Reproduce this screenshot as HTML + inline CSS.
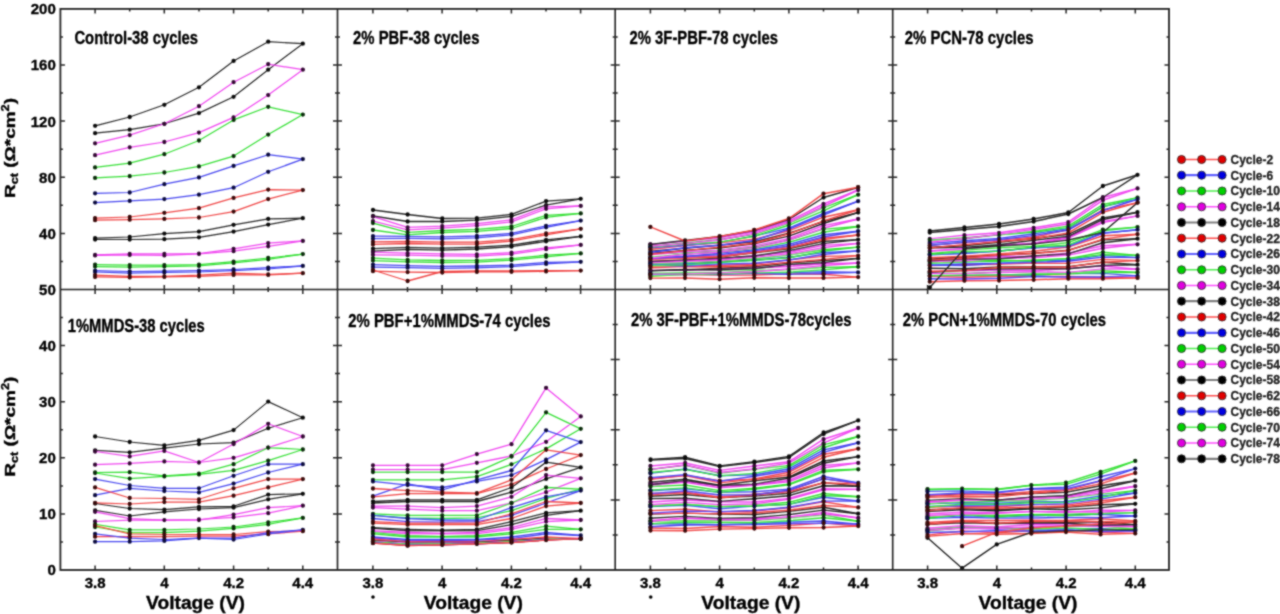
<!DOCTYPE html>
<html><head><meta charset="utf-8"><style>
html,body{margin:0;padding:0;background:#fff;width:1280px;height:614px;overflow:hidden}
svg{display:block}
</style></head><body>
<svg width="1280" height="614" viewBox="0 0 1280 614">
<defs><filter id="bl" x="0" y="0" width="1280" height="614" filterUnits="userSpaceOnUse"><feConvolveMatrix order="3" kernelMatrix="1 2 1 2 8 2 1 2 1" edgeMode="duplicate" preserveAlpha="false"/></filter></defs>
<rect x="0" y="0" width="1280" height="614" fill="#fff"/>
<g filter="url(#bl)">
<g fill="none" stroke-width="1.2" stroke-linejoin="round"><g stroke-width="1.2"><path d="M95.1,125.8 L129.7,117.0 L164.3,104.8 L199.0,87.3 L233.6,60.9 L268.2,41.7 L302.8,43.7" stroke="#2a2a2a"/><path d="M95.1,133.2 L129.7,129.7 L164.3,123.8 L199.0,113.1 L233.6,96.8 L268.2,69.7 L302.8,43.7" stroke="#2a2a2a"/><path d="M95.1,143.3 L129.7,135.1 L164.3,123.8 L199.0,106.2 L233.6,82.2 L268.2,64.2 L302.8,69.7" stroke="#f048f0"/><path d="M95.1,155.2 L129.7,147.3 L164.3,142.0 L199.0,132.6 L233.6,117.4 L268.2,95.1 L302.8,69.7" stroke="#f048f0"/><path d="M95.1,167.4 L129.7,163.2 L164.3,154.2 L199.0,140.5 L233.6,119.9 L268.2,106.8 L302.8,114.6" stroke="#38e038"/><path d="M95.1,177.9 L129.7,176.2 L164.3,172.5 L199.0,166.4 L233.6,156.1 L268.2,134.6 L302.8,114.6" stroke="#38e038"/><path d="M95.1,193.3 L129.7,192.5 L164.3,184.2 L199.0,177.4 L233.6,165.9 L268.2,154.7 L302.8,159.1" stroke="#4848f0"/><path d="M95.1,202.6 L129.7,200.9 L164.3,199.1 L199.0,194.7 L233.6,187.7 L268.2,171.8 L302.8,159.1" stroke="#4848f0"/><path d="M95.1,218.2 L129.7,217.0 L164.3,212.8 L199.0,208.2 L233.6,197.9 L268.2,189.6 L302.8,190.1" stroke="#f04848"/><path d="M95.1,220.2 L129.7,219.7 L164.3,218.9 L199.0,217.5 L233.6,211.6 L268.2,199.1 L302.8,190.1" stroke="#f04848"/><path d="M95.1,238.2 L129.7,237.0 L164.3,233.6 L199.0,231.6 L233.6,224.8 L268.2,218.9 L302.8,218.2" stroke="#2a2a2a"/><path d="M95.1,239.5 L129.7,239.5 L164.3,239.2 L199.0,237.3 L233.6,231.6 L268.2,224.6 L302.8,218.2" stroke="#2a2a2a"/><path d="M95.1,254.9 L129.7,253.9 L164.3,253.9 L199.0,253.6 L233.6,248.8 L268.2,243.1 L302.8,240.9" stroke="#f048f0"/><path d="M95.1,255.4 L129.7,254.9 L164.3,255.4 L199.0,253.9 L233.6,251.2 L268.2,246.3 L302.8,240.9" stroke="#f048f0"/><path d="M95.1,264.6 L129.7,265.1 L164.3,265.1 L199.0,264.6 L233.6,261.7 L268.2,258.0 L302.8,254.1" stroke="#38e038"/><path d="M95.1,266.6 L129.7,267.1 L164.3,266.6 L199.0,265.9 L233.6,262.9 L268.2,259.3 L302.8,254.1" stroke="#38e038"/><path d="M95.1,270.7 L129.7,271.5 L164.3,271.2 L199.0,270.7 L233.6,269.5 L268.2,267.6 L302.8,265.9" stroke="#4848f0"/><path d="M95.1,272.0 L129.7,273.2 L164.3,272.5 L199.0,272.0 L233.6,270.7 L268.2,269.0 L302.8,265.9" stroke="#4848f0"/><path d="M95.1,275.2 L129.7,276.4 L164.3,276.4 L199.0,275.2 L233.6,273.2 L268.2,274.4 L302.8,273.2" stroke="#f04848"/><path d="M95.1,276.9 L129.7,277.4 L164.3,276.9 L199.0,276.4 L233.6,274.9 L268.2,274.9 L302.8,273.2" stroke="#f04848"/></g><g stroke-width="1.3"><path d="M373.0,270.0 L407.6,281.0 L442.2,271.5 L476.9,271.0 L511.5,271.0 L546.1,270.6 L580.7,270.6" stroke="#f04848"/><path d="M373.0,271.2 L407.6,272.1 L442.2,272.5 L476.9,271.9 L511.5,271.8 L546.1,271.4 L580.7,270.6" stroke="#f04848"/><path d="M373.0,264.6 L407.6,265.7 L442.2,266.4 L476.9,266.0 L511.5,265.1 L546.1,262.4 L580.7,261.8" stroke="#4848f0"/><path d="M373.0,267.1 L407.6,267.7 L442.2,268.4 L476.9,267.8 L511.5,266.6 L546.1,263.9 L580.7,261.8" stroke="#4848f0"/><path d="M373.0,258.1 L407.6,259.8 L442.2,260.5 L476.9,260.4 L511.5,258.6 L546.1,255.2 L580.7,253.4" stroke="#38e038"/><path d="M373.0,260.6 L407.6,261.8 L442.2,262.5 L476.9,262.2 L511.5,260.1 L546.1,256.8 L580.7,253.4" stroke="#38e038"/><path d="M373.0,252.2 L407.6,253.2 L442.2,253.9 L476.9,254.4 L511.5,252.7 L546.1,247.8 L580.7,244.9" stroke="#f048f0"/><path d="M373.0,254.8 L407.6,255.2 L442.2,255.9 L476.9,256.2 L511.5,254.2 L546.1,249.2 L580.7,244.9" stroke="#f048f0"/><path d="M373.0,248.6 L407.6,247.4 L442.2,248.1 L476.9,247.2 L511.5,245.2 L546.1,239.8 L580.7,236.3" stroke="#2a2a2a"/><path d="M373.0,251.1 L407.6,249.4 L442.2,250.1 L476.9,249.0 L511.5,246.7 L546.1,241.3 L580.7,236.3" stroke="#2a2a2a"/><path d="M373.0,241.9 L407.6,241.5 L442.2,242.2 L476.9,242.2 L511.5,239.6 L546.1,233.3 L580.7,228.8" stroke="#f04848"/><path d="M373.0,244.4 L407.6,243.5 L442.2,244.2 L476.9,244.0 L511.5,241.1 L546.1,234.8 L580.7,228.8" stroke="#f04848"/><path d="M373.0,236.2 L407.6,236.4 L442.2,236.8 L476.9,236.0 L511.5,233.3 L546.1,225.8 L580.7,220.6" stroke="#4848f0"/><path d="M373.0,238.7 L407.6,238.4 L442.2,238.8 L476.9,237.8 L511.5,234.8 L546.1,227.3 L580.7,220.6" stroke="#4848f0"/><path d="M373.0,223.0 L407.6,232.4 L442.2,230.5 L476.9,229.3 L511.5,226.5 L546.1,215.3 L580.7,213.4" stroke="#38e038"/><path d="M373.0,230.0 L407.6,234.9 L442.2,232.5 L476.9,231.3 L511.5,228.5 L546.1,217.3 L580.7,213.4" stroke="#38e038"/><path d="M373.0,216.6 L407.6,227.3 L442.2,226.1 L476.9,223.7 L511.5,219.9 L546.1,206.8 L580.7,205.9" stroke="#f048f0"/><path d="M373.0,221.1 L407.6,229.8 L442.2,228.1 L476.9,225.7 L511.5,221.9 L546.1,208.8 L580.7,205.9" stroke="#f048f0"/><path d="M373.0,210.0 L407.6,214.5 L442.2,218.5 L476.9,218.1 L511.5,214.3 L546.1,201.1 L580.7,198.8" stroke="#2a2a2a"/><path d="M373.0,216.0 L407.6,221.5 L442.2,221.5 L476.9,220.1 L511.5,216.3 L546.1,205.1 L580.7,198.8" stroke="#2a2a2a"/></g><g stroke-width="1.45"><path d="M650.4,274.4 L685.0,274.5 L719.6,275.1 L754.3,275.0 L788.9,273.9 L823.5,274.2 L858.1,277.1" stroke="#f04848"/><path d="M650.4,278.1 L685.0,278.0 L719.6,279.2 L754.3,277.8 L788.9,278.0 L823.5,277.9 L858.1,277.1" stroke="#f04848"/><path d="M650.4,273.5 L685.0,274.3 L719.6,274.4 L754.3,273.1 L788.9,272.7 L823.5,271.8 L858.1,272.4" stroke="#4848f0"/><path d="M650.4,274.5 L685.0,274.5 L719.6,274.0 L754.3,273.2 L788.9,274.2 L823.5,273.6 L858.1,272.4" stroke="#4848f0"/><path d="M650.4,273.5 L685.0,272.8 L719.6,272.6 L754.3,270.5 L788.9,269.7 L823.5,267.3 L858.1,266.8" stroke="#38e038"/><path d="M650.4,276.2 L685.0,274.4 L719.6,273.7 L754.3,272.6 L788.9,272.3 L823.5,269.9 L858.1,266.8" stroke="#38e038"/><path d="M650.4,270.4 L685.0,270.3 L719.6,269.4 L754.3,268.0 L788.9,266.5 L823.5,263.8 L858.1,263.0" stroke="#f048f0"/><path d="M650.4,274.1 L685.0,273.9 L719.6,272.9 L754.3,271.7 L788.9,269.0 L823.5,265.7 L858.1,263.0" stroke="#f048f0"/><path d="M650.4,270.8 L685.0,269.9 L719.6,268.2 L754.3,266.7 L788.9,263.1 L823.5,260.5 L858.1,258.4" stroke="#2a2a2a"/><path d="M650.4,270.6 L685.0,269.5 L719.6,270.0 L754.3,268.7 L788.9,264.6 L823.5,262.8 L858.1,258.4" stroke="#2a2a2a"/><path d="M650.4,266.1 L685.0,265.6 L719.6,265.5 L754.3,264.0 L788.9,259.7 L823.5,256.4 L858.1,255.6" stroke="#f04848"/><path d="M650.4,267.8 L685.0,266.5 L719.6,266.8 L754.3,265.5 L788.9,262.1 L823.5,259.4 L858.1,255.6" stroke="#f04848"/><path d="M650.4,263.9 L685.0,263.9 L719.6,261.8 L754.3,260.2 L788.9,257.3 L823.5,252.5 L858.1,250.9" stroke="#4848f0"/><path d="M650.4,265.3 L685.0,266.0 L719.6,264.0 L754.3,263.3 L788.9,260.0 L823.5,254.5 L858.1,250.9" stroke="#4848f0"/><path d="M650.4,263.6 L685.0,262.6 L719.6,261.2 L754.3,258.8 L788.9,255.1 L823.5,249.5 L858.1,247.1" stroke="#38e038"/><path d="M650.4,265.6 L685.0,264.9 L719.6,262.6 L754.3,260.4 L788.9,257.8 L823.5,251.3 L858.1,247.1" stroke="#38e038"/><path d="M650.4,261.4 L685.0,260.6 L719.6,259.3 L754.3,255.7 L788.9,252.4 L823.5,245.4 L858.1,243.4" stroke="#f048f0"/><path d="M650.4,262.7 L685.0,261.2 L719.6,260.3 L754.3,257.4 L788.9,254.0 L823.5,247.8 L858.1,243.4" stroke="#f048f0"/><path d="M650.4,257.9 L685.0,257.6 L719.6,256.7 L754.3,252.9 L788.9,248.7 L823.5,241.3 L858.1,239.6" stroke="#2a2a2a"/><path d="M650.4,261.5 L685.0,259.9 L719.6,258.3 L754.3,256.0 L788.9,250.8 L823.5,243.6 L858.1,239.6" stroke="#2a2a2a"/><path d="M650.4,258.9 L685.0,257.8 L719.6,256.0 L754.3,252.0 L788.9,246.3 L823.5,238.3 L858.1,235.0" stroke="#f04848"/><path d="M650.4,259.2 L685.0,258.0 L719.6,256.7 L754.3,252.6 L788.9,247.8 L823.5,239.6 L858.1,235.0" stroke="#f04848"/><path d="M650.4,258.2 L685.0,256.7 L719.6,253.1 L754.3,249.8 L788.9,244.3 L823.5,234.8 L858.1,231.2" stroke="#4848f0"/><path d="M650.4,258.4 L685.0,256.2 L719.6,254.8 L754.3,250.9 L788.9,246.1 L823.5,237.0 L858.1,231.2" stroke="#4848f0"/><path d="M650.4,253.9 L685.0,252.8 L719.6,250.3 L754.3,247.1 L788.9,240.1 L823.5,229.1 L858.1,226.5" stroke="#38e038"/><path d="M650.4,257.2 L685.0,254.1 L719.6,252.0 L754.3,248.6 L788.9,242.3 L823.5,232.2 L858.1,226.5" stroke="#38e038"/><path d="M650.4,254.7 L685.0,251.7 L719.6,250.4 L754.3,245.9 L788.9,238.6 L823.5,225.6 L858.1,219.0" stroke="#f048f0"/><path d="M650.4,258.2 L685.0,254.2 L719.6,252.1 L754.3,247.9 L788.9,240.1 L823.5,228.2 L858.1,219.0" stroke="#f048f0"/><path d="M650.4,251.1 L685.0,248.3 L719.6,245.2 L754.3,241.7 L788.9,233.3 L823.5,221.5 L858.1,212.5" stroke="#2a2a2a"/><path d="M650.4,253.2 L685.0,250.4 L719.6,248.1 L754.3,243.8 L788.9,236.1 L823.5,223.5 L858.1,212.5" stroke="#2a2a2a"/><path d="M650.4,249.2 L685.0,245.5 L719.6,242.9 L754.3,239.1 L788.9,230.8 L823.5,217.2 L858.1,209.7" stroke="#f04848"/><path d="M650.4,254.2 L685.0,250.6 L719.6,247.1 L754.3,243.2 L788.9,233.9 L823.5,220.9 L858.1,209.7" stroke="#f04848"/><path d="M650.4,247.7 L685.0,245.3 L719.6,242.4 L754.3,236.1 L788.9,228.1 L823.5,213.5 L858.1,201.2" stroke="#4848f0"/><path d="M650.4,252.5 L685.0,247.8 L719.6,245.2 L754.3,240.2 L788.9,229.3 L823.5,215.1 L858.1,201.2" stroke="#4848f0"/><path d="M650.4,246.4 L685.0,243.0 L719.6,239.5 L754.3,234.5 L788.9,223.3 L823.5,207.6 L858.1,194.7" stroke="#38e038"/><path d="M650.4,247.1 L685.0,244.0 L719.6,242.0 L754.3,236.4 L788.9,225.3 L823.5,210.8 L858.1,194.7" stroke="#38e038"/><path d="M650.4,244.5 L685.0,241.2 L719.6,237.8 L754.3,231.8 L788.9,221.0 L823.5,204.0 L858.1,190.0" stroke="#f048f0"/><path d="M650.4,246.2 L685.0,243.6 L719.6,240.0 L754.3,233.5 L788.9,222.5 L823.5,206.5 L858.1,190.0" stroke="#f048f0"/><path d="M650.4,244.5 L685.0,240.5 L719.6,236.5 L754.3,230.5 L788.9,219.5 L823.5,197.5 L858.1,187.5" stroke="#2a2a2a"/><path d="M650.4,226.9 L685.0,241.0 L719.6,236.5 L754.3,230.0 L788.9,218.5 L823.5,193.7 L858.1,187.2" stroke="#f04848"/></g><g stroke-width="1.45"><path d="M929.8,276.2 L964.4,277.2 L999.0,276.2 L1033.7,276.2 L1068.3,276.5 L1102.9,277.4 L1137.5,277.9" stroke="#f04848"/><path d="M929.8,281.7 L964.4,280.7 L999.0,280.5 L1033.7,279.8 L1068.3,278.7 L1102.9,278.7 L1137.5,277.9" stroke="#f04848"/><path d="M929.8,275.5 L964.4,275.6 L999.0,275.0 L1033.7,275.2 L1068.3,273.6 L1102.9,273.4 L1137.5,275.9" stroke="#4848f0"/><path d="M929.8,278.7 L964.4,279.0 L999.0,278.3 L1033.7,276.6 L1068.3,277.0 L1102.9,276.9 L1137.5,275.9" stroke="#4848f0"/><path d="M929.8,272.9 L964.4,273.5 L999.0,271.9 L1033.7,273.4 L1068.3,272.7 L1102.9,270.5 L1137.5,272.5" stroke="#38e038"/><path d="M929.8,275.6 L964.4,275.0 L999.0,274.9 L1033.7,274.8 L1068.3,273.7 L1102.9,272.6 L1137.5,272.5" stroke="#38e038"/><path d="M929.8,271.6 L964.4,270.7 L999.0,270.1 L1033.7,270.8 L1068.3,268.4 L1102.9,266.0 L1137.5,269.2" stroke="#f048f0"/><path d="M929.8,273.4 L964.4,273.6 L999.0,272.5 L1033.7,271.9 L1068.3,272.4 L1102.9,268.9 L1137.5,269.2" stroke="#f048f0"/><path d="M929.8,268.2 L964.4,268.7 L999.0,267.0 L1033.7,266.8 L1068.3,266.6 L1102.9,262.3 L1137.5,264.7" stroke="#2a2a2a"/><path d="M929.8,272.2 L964.4,270.1 L999.0,269.0 L1033.7,268.8 L1068.3,268.8 L1102.9,265.5 L1137.5,264.7" stroke="#2a2a2a"/><path d="M929.8,265.5 L964.4,264.8 L999.0,264.4 L1033.7,263.1 L1068.3,263.4 L1102.9,259.4 L1137.5,260.6" stroke="#f04848"/><path d="M929.8,271.2 L964.4,270.7 L999.0,267.4 L1033.7,267.0 L1068.3,266.9 L1102.9,262.2 L1137.5,260.6" stroke="#f04848"/><path d="M929.8,265.2 L964.4,263.8 L999.0,263.1 L1033.7,261.4 L1068.3,260.0 L1102.9,255.3 L1137.5,257.6" stroke="#4848f0"/><path d="M929.8,265.0 L964.4,265.6 L999.0,263.4 L1033.7,262.3 L1068.3,261.3 L1102.9,257.1 L1137.5,257.6" stroke="#4848f0"/><path d="M929.8,263.3 L964.4,262.0 L999.0,260.3 L1033.7,261.0 L1068.3,258.6 L1102.9,252.2 L1137.5,255.5" stroke="#38e038"/><path d="M929.8,261.8 L964.4,261.3 L999.0,261.5 L1033.7,259.9 L1068.3,258.8 L1102.9,254.8 L1137.5,255.5" stroke="#38e038"/><path d="M929.8,260.2 L964.4,257.5 L999.0,256.8 L1033.7,256.1 L1068.3,253.1 L1102.9,245.7 L1137.5,244.3" stroke="#f048f0"/><path d="M929.8,261.6 L964.4,260.8 L999.0,258.4 L1033.7,257.8 L1068.3,255.1 L1102.9,248.2 L1137.5,244.3" stroke="#f048f0"/><path d="M929.8,259.3 L964.4,256.8 L999.0,255.2 L1033.7,253.3 L1068.3,250.2 L1102.9,239.9 L1137.5,238.7" stroke="#2a2a2a"/><path d="M929.8,260.8 L964.4,259.0 L999.0,258.7 L1033.7,256.0 L1068.3,253.9 L1102.9,242.7 L1137.5,238.7" stroke="#2a2a2a"/><path d="M929.8,257.7 L964.4,256.2 L999.0,253.9 L1033.7,251.2 L1068.3,247.1 L1102.9,235.7 L1137.5,234.2" stroke="#f04848"/><path d="M929.8,260.1 L964.4,258.3 L999.0,255.0 L1033.7,253.5 L1068.3,250.5 L1102.9,239.1 L1137.5,234.2" stroke="#f04848"/><path d="M929.8,254.9 L964.4,253.2 L999.0,251.0 L1033.7,247.9 L1068.3,245.7 L1102.9,233.0 L1137.5,229.7" stroke="#4848f0"/><path d="M929.8,254.8 L964.4,253.3 L999.0,251.0 L1033.7,247.9 L1068.3,246.6 L1102.9,233.4 L1137.5,229.7" stroke="#4848f0"/><path d="M929.8,253.5 L964.4,250.1 L999.0,247.9 L1033.7,246.4 L1068.3,242.6 L1102.9,229.6 L1137.5,227.1" stroke="#38e038"/><path d="M929.8,254.5 L964.4,251.9 L999.0,251.3 L1033.7,247.1 L1068.3,245.2 L1102.9,230.8 L1137.5,227.1" stroke="#38e038"/><path d="M929.8,250.9 L964.4,248.8 L999.0,245.4 L1033.7,243.1 L1068.3,237.0 L1102.9,221.6 L1137.5,215.9" stroke="#f048f0"/><path d="M929.8,251.2 L964.4,249.0 L999.0,245.9 L1033.7,243.4 L1068.3,238.0 L1102.9,222.5 L1137.5,215.9" stroke="#f048f0"/><path d="M929.8,247.2 L964.4,245.7 L999.0,242.4 L1033.7,238.5 L1068.3,234.3 L1102.9,218.0 L1137.5,212.2" stroke="#2a2a2a"/><path d="M929.8,248.0 L964.4,247.4 L999.0,244.7 L1033.7,240.3 L1068.3,236.5 L1102.9,219.7 L1137.5,212.2" stroke="#2a2a2a"/><path d="M929.8,245.4 L964.4,242.6 L999.0,239.9 L1033.7,237.3 L1068.3,229.7 L1102.9,210.0 L1137.5,202.6" stroke="#f04848"/><path d="M929.8,247.9 L964.4,244.6 L999.0,241.3 L1033.7,238.7 L1068.3,232.9 L1102.9,212.3 L1137.5,202.6" stroke="#f04848"/><path d="M929.8,243.4 L964.4,240.7 L999.0,238.4 L1033.7,233.8 L1068.3,228.5 L1102.9,206.6 L1137.5,199.2" stroke="#4848f0"/><path d="M929.8,245.3 L964.4,242.4 L999.0,239.7 L1033.7,235.6 L1068.3,230.0 L1102.9,210.5 L1137.5,199.2" stroke="#4848f0"/><path d="M929.8,240.1 L964.4,237.7 L999.0,234.9 L1033.7,231.2 L1068.3,225.9 L1102.9,204.5 L1137.5,197.6" stroke="#38e038"/><path d="M929.8,240.0 L964.4,238.7 L999.0,234.9 L1033.7,232.4 L1068.3,227.6 L1102.9,206.8 L1137.5,197.6" stroke="#38e038"/><path d="M929.8,238.9 L964.4,235.2 L999.0,232.8 L1033.7,227.8 L1068.3,222.1 L1102.9,197.5 L1137.5,188.4" stroke="#f048f0"/><path d="M929.8,242.0 L964.4,238.5 L999.0,234.4 L1033.7,229.5 L1068.3,224.0 L1102.9,200.2 L1137.5,188.4" stroke="#f048f0"/><path d="M929.8,231.0 L964.4,227.5 L999.0,224.0 L1033.7,219.0 L1068.3,212.5 L1102.9,186.0 L1137.5,174.8" stroke="#2a2a2a"/><path d="M929.8,232.5 L964.4,229.5 L999.0,226.5 L1033.7,221.5 L1068.3,214.0 L1102.9,197.5 L1137.5,174.8" stroke="#2a2a2a"/><path d="M929.8,287.5 L964.4,248.8 L999.0,246.0 L1033.7,244.0 L1068.3,240.0 L1102.9,232.5 L1137.5,202.6" stroke="#2a2a2a"/></g><g stroke-width="1.2"><path d="M95.1,436.5 L129.7,442.0 L164.3,445.4 L199.0,440.4 L233.6,430.1 L268.2,401.6 L302.8,417.7" stroke="#2a2a2a"/><path d="M95.1,450.3 L129.7,452.3 L164.3,448.1 L199.0,444.0 L233.6,442.6 L268.2,428.2 L302.8,417.7" stroke="#2a2a2a"/><path d="M95.1,451.5 L129.7,456.4 L164.3,450.9 L199.0,462.5 L233.6,444.0 L268.2,423.8 L302.8,436.5" stroke="#f048f0"/><path d="M95.1,464.7 L129.7,463.4 L164.3,461.4 L199.0,462.5 L233.6,457.8 L268.2,447.6 L302.8,436.5" stroke="#f048f0"/><path d="M95.1,472.5 L129.7,472.2 L164.3,475.8 L199.0,473.6 L233.6,464.2 L268.2,447.6 L302.8,449.5" stroke="#38e038"/><path d="M95.1,473.0 L129.7,478.6 L164.3,476.4 L199.0,474.4 L233.6,470.3 L268.2,460.6 L302.8,449.5" stroke="#38e038"/><path d="M95.1,479.1 L129.7,485.5 L164.3,488.3 L199.0,488.3 L233.6,475.8 L268.2,464.2 L302.8,464.2" stroke="#4848f0"/><path d="M95.1,495.2 L129.7,488.3 L164.3,491.0 L199.0,492.4 L233.6,483.6 L268.2,472.5 L302.8,464.2" stroke="#4848f0"/><path d="M95.1,487.4 L129.7,498.0 L164.3,498.5 L199.0,499.3 L233.6,488.3 L268.2,479.1 L302.8,479.1" stroke="#f04848"/><path d="M95.1,502.9 L129.7,504.0 L164.3,502.1 L199.0,502.1 L233.6,495.7 L268.2,487.4 L302.8,479.1" stroke="#f04848"/><path d="M95.1,503.5 L129.7,508.5 L164.3,509.6 L199.0,506.8 L233.6,506.3 L268.2,494.6 L302.8,493.8" stroke="#2a2a2a"/><path d="M95.1,510.4 L129.7,516.0 L164.3,511.8 L199.0,509.0 L233.6,507.6 L268.2,499.3 L302.8,493.8" stroke="#2a2a2a"/><path d="M95.1,511.8 L129.7,518.7 L164.3,520.1 L199.0,520.1 L233.6,514.6 L268.2,507.6 L302.8,505.7" stroke="#f048f0"/><path d="M95.1,521.5 L129.7,520.1 L164.3,520.1 L199.0,519.5 L233.6,517.3 L268.2,513.2 L302.8,505.7" stroke="#f048f0"/><path d="M95.1,524.3 L129.7,529.8 L164.3,529.8 L199.0,529.0 L233.6,527.0 L268.2,522.3 L302.8,517.9" stroke="#38e038"/><path d="M95.1,527.0 L129.7,532.6 L164.3,532.6 L199.0,531.2 L233.6,528.4 L268.2,524.3 L302.8,517.9" stroke="#38e038"/><path d="M95.1,525.6 L129.7,533.9 L164.3,534.5 L199.0,534.5 L233.6,534.5 L268.2,531.7 L302.8,531.2" stroke="#f04848"/><path d="M95.1,536.7 L129.7,536.7 L164.3,536.7 L199.0,536.2 L233.6,536.2 L268.2,534.0 L302.8,531.2" stroke="#f04848"/><path d="M95.1,533.9 L129.7,538.1 L164.3,539.5 L199.0,538.1 L233.6,538.1 L268.2,532.6 L302.8,529.8" stroke="#4848f0"/><path d="M95.1,541.7 L129.7,541.7 L164.3,540.9 L199.0,538.1 L233.6,539.5 L268.2,534.0 L302.8,529.8" stroke="#4848f0"/></g><g stroke-width="1.3"><path d="M373.0,465.3 L407.6,465.3 L442.2,465.3 L476.9,454.1 L511.5,444.2 L546.1,387.9 L580.7,416.4" stroke="#f048f0"/><path d="M373.0,469.6 L407.6,469.6 L442.2,469.6 L476.9,462.8 L511.5,456.0 L546.1,441.8 L580.7,416.4" stroke="#f048f0"/><path d="M373.0,472.1 L407.6,472.1 L442.2,472.1 L476.9,472.1 L511.5,456.6 L546.1,412.4 L580.7,428.8" stroke="#38e038"/><path d="M373.0,479.8 L407.6,479.8 L442.2,479.8 L476.9,476.7 L511.5,464.3 L546.1,448.9 L580.7,428.8" stroke="#38e038"/><path d="M373.0,496.2 L407.6,483.8 L442.2,490.0 L476.9,479.8 L511.5,470.5 L546.1,430.3 L580.7,442.1" stroke="#4848f0"/><path d="M373.0,481.4 L407.6,485.1 L442.2,487.5 L476.9,481.4 L511.5,475.2 L546.1,459.7 L580.7,442.1" stroke="#4848f0"/><path d="M373.0,488.5 L407.6,490.6 L442.2,492.2 L476.9,493.1 L511.5,479.8 L546.1,449.8 L580.7,455.1" stroke="#f04848"/><path d="M373.0,496.8 L407.6,493.7 L442.2,493.7 L476.9,493.7 L511.5,484.4 L546.1,469.0 L580.7,455.1" stroke="#f04848"/><path d="M373.0,501.5 L407.6,499.9 L442.2,499.9 L476.9,499.9 L511.5,487.5 L546.1,462.2 L580.7,467.4" stroke="#2a2a2a"/><path d="M373.0,503.0 L407.6,501.5 L442.2,501.5 L476.9,501.5 L511.5,492.2 L546.1,478.9 L580.7,467.4" stroke="#2a2a2a"/><path d="M373.0,506.1 L407.6,506.1 L442.2,507.6 L476.9,506.1 L511.5,496.8 L546.1,475.2 L580.7,478.3" stroke="#f048f0"/><path d="M373.0,507.6 L407.6,509.2 L442.2,510.7 L476.9,510.7 L511.5,503.0 L546.1,492.2 L580.7,478.3" stroke="#f048f0"/><path d="M373.0,513.8 L407.6,515.4 L442.2,515.4 L476.9,515.4 L511.5,503.0 L546.1,487.5 L580.7,489.1" stroke="#38e038"/><path d="M373.0,515.4 L407.6,517.9 L442.2,518.5 L476.9,517.9 L511.5,510.7 L546.1,498.4 L580.7,489.1" stroke="#38e038"/><path d="M373.0,515.4 L407.6,518.5 L442.2,520.0 L476.9,520.0 L511.5,507.6 L546.1,496.8 L580.7,490.6" stroke="#4848f0"/><path d="M373.0,518.5 L407.6,521.6 L442.2,522.2 L476.9,521.6 L511.5,515.4 L546.1,503.0 L580.7,490.6" stroke="#4848f0"/><path d="M373.0,521.6 L407.6,523.1 L442.2,523.1 L476.9,523.1 L511.5,513.8 L546.1,501.5 L580.7,503.0" stroke="#f04848"/><path d="M373.0,523.1 L407.6,524.7 L442.2,524.7 L476.9,524.7 L511.5,518.5 L546.1,506.1 L580.7,503.0" stroke="#f04848"/><path d="M373.0,527.7 L407.6,529.3 L442.2,530.2 L476.9,529.3 L511.5,521.6 L546.1,512.9 L580.7,510.7" stroke="#2a2a2a"/><path d="M373.0,528.4 L407.6,530.8 L442.2,530.8 L476.9,530.8 L511.5,524.7 L546.1,515.4 L580.7,510.7" stroke="#2a2a2a"/><path d="M373.0,530.8 L407.6,532.4 L442.2,533.3 L476.9,532.4 L511.5,527.7 L546.1,518.5 L580.7,520.0" stroke="#f048f0"/><path d="M373.0,531.5 L407.6,533.9 L442.2,533.9 L476.9,533.9 L511.5,529.3 L546.1,521.6 L580.7,520.0" stroke="#f048f0"/><path d="M373.0,532.4 L407.6,535.5 L442.2,536.4 L476.9,535.5 L511.5,532.4 L546.1,526.2 L580.7,529.3" stroke="#38e038"/><path d="M373.0,533.9 L407.6,537.0 L442.2,537.0 L476.9,537.0 L511.5,533.9 L546.1,529.3 L580.7,529.3" stroke="#38e038"/><path d="M373.0,537.0 L407.6,539.5 L442.2,539.5 L476.9,539.5 L511.5,537.0 L546.1,532.4 L580.7,535.5" stroke="#4848f0"/><path d="M373.0,538.0 L407.6,540.7 L442.2,540.7 L476.9,540.1 L511.5,538.6 L546.1,533.9 L580.7,535.5" stroke="#4848f0"/><path d="M373.0,538.9 L407.6,541.7 L442.2,541.7 L476.9,541.7 L511.5,539.5 L546.1,537.0 L580.7,538.6" stroke="#f04848"/><path d="M373.0,539.8 L407.6,542.6 L442.2,542.6 L476.9,542.0 L511.5,540.1 L546.1,538.0 L580.7,538.6" stroke="#f04848"/><path d="M373.0,540.7 L407.6,542.6 L442.2,542.3 L476.9,542.3 L511.5,540.7 L546.1,538.6 L580.7,538.9" stroke="#2a2a2a"/><path d="M373.0,541.4 L407.6,543.2 L442.2,542.9 L476.9,542.6 L511.5,541.0 L546.1,538.9 L580.7,538.9" stroke="#2a2a2a"/><path d="M373.0,541.4 L407.6,543.2 L442.2,543.2 L476.9,542.9 L511.5,541.4 L546.1,539.2 L580.7,538.3" stroke="#f048f0"/><path d="M373.0,541.7 L407.6,543.8 L442.2,543.5 L476.9,543.2 L511.5,541.7 L546.1,539.2 L580.7,538.3" stroke="#f048f0"/><path d="M373.0,542.0 L407.6,544.1 L442.2,543.8 L476.9,543.5 L511.5,542.0 L546.1,539.5 L580.7,538.6" stroke="#38e038"/><path d="M373.0,542.3 L407.6,544.5 L442.2,544.1 L476.9,543.5 L511.5,542.0 L546.1,539.5 L580.7,538.6" stroke="#38e038"/><path d="M373.0,542.6 L407.6,545.1 L442.2,544.5 L476.9,543.8 L511.5,542.3 L546.1,539.8 L580.7,538.6" stroke="#4848f0"/><path d="M373.0,542.9 L407.6,545.4 L442.2,544.8 L476.9,543.8 L511.5,542.3 L546.1,539.8 L580.7,538.6" stroke="#4848f0"/><path d="M373.0,543.2 L407.6,545.7 L442.2,544.8 L476.9,543.8 L511.5,542.6 L546.1,540.1 L580.7,538.6" stroke="#f04848"/><path d="M373.0,543.2 L407.6,545.7 L442.2,544.8 L476.9,543.8 L511.5,542.6 L546.1,540.1 L580.7,538.6" stroke="#f04848"/></g><g stroke-width="1.45"><path d="M650.5,528.0 L685.1,528.5 L719.7,526.5 L754.4,527.2 L789.0,525.4 L823.6,523.1 L858.2,526.0" stroke="#f04848"/><path d="M650.5,530.5 L685.1,530.7 L719.7,529.1 L754.4,528.6 L789.0,527.8 L823.6,527.5 L858.2,526.0" stroke="#f04848"/><path d="M650.5,523.8 L685.1,524.0 L719.7,524.7 L754.4,523.7 L789.0,522.0 L823.6,521.0 L858.2,524.3" stroke="#4848f0"/><path d="M650.5,526.8 L685.1,525.0 L719.7,524.7 L754.4,524.5 L789.0,523.7 L823.6,523.1 L858.2,524.3" stroke="#4848f0"/><path d="M650.5,521.3 L685.1,520.6 L719.7,520.4 L754.4,520.6 L789.0,518.0 L823.6,514.7 L858.2,521.2" stroke="#38e038"/><path d="M650.5,523.7 L685.1,522.3 L719.7,522.4 L754.4,522.7 L789.0,520.8 L823.6,517.8 L858.2,521.2" stroke="#38e038"/><path d="M650.5,520.8 L685.1,518.3 L719.7,519.5 L754.4,518.6 L789.0,517.3 L823.6,512.4 L858.2,518.0" stroke="#f048f0"/><path d="M650.5,521.2 L685.1,518.2 L719.7,519.7 L754.4,520.0 L789.0,516.9 L823.6,514.0 L858.2,518.0" stroke="#f048f0"/><path d="M650.5,514.0 L685.1,513.1 L719.7,514.1 L754.4,514.5 L789.0,511.4 L823.6,507.2 L858.2,513.7" stroke="#2a2a2a"/><path d="M650.5,518.2 L685.1,516.4 L719.7,518.4 L754.4,517.8 L789.0,514.6 L823.6,510.1 L858.2,513.7" stroke="#2a2a2a"/><path d="M650.5,510.6 L685.1,509.2 L719.7,512.0 L754.4,511.0 L789.0,507.7 L823.6,501.7 L858.2,507.4" stroke="#f04848"/><path d="M650.5,513.8 L685.1,513.1 L719.7,513.9 L754.4,512.8 L789.0,510.1 L823.6,505.5 L858.2,507.4" stroke="#f04848"/><path d="M650.5,506.5 L685.1,505.3 L719.7,508.7 L754.4,506.1 L789.0,504.4 L823.6,497.3 L858.2,501.0" stroke="#4848f0"/><path d="M650.5,513.1 L685.1,511.1 L719.7,511.6 L754.4,510.5 L789.0,507.3 L823.6,501.1 L858.2,501.0" stroke="#4848f0"/><path d="M650.5,506.4 L685.1,504.2 L719.7,506.6 L754.4,504.9 L789.0,502.2 L823.6,493.5 L858.2,496.8" stroke="#38e038"/><path d="M650.5,505.1 L685.1,504.2 L719.7,506.8 L754.4,506.1 L789.0,504.3 L823.6,495.7 L858.2,496.8" stroke="#38e038"/><path d="M650.5,502.0 L685.1,500.0 L719.7,501.7 L754.4,502.0 L789.0,498.4 L823.6,488.8 L858.2,489.4" stroke="#f048f0"/><path d="M650.5,504.8 L685.1,502.4 L719.7,504.7 L754.4,504.0 L789.0,499.3 L823.6,489.7 L858.2,489.4" stroke="#f048f0"/><path d="M650.5,496.2 L685.1,494.5 L719.7,497.7 L754.4,496.1 L789.0,493.2 L823.6,482.6 L858.2,486.2" stroke="#2a2a2a"/><path d="M650.5,498.6 L685.1,498.2 L719.7,501.4 L754.4,498.7 L789.0,495.7 L823.6,485.7 L858.2,486.2" stroke="#2a2a2a"/><path d="M650.5,493.4 L685.1,492.5 L719.7,497.0 L754.4,494.3 L789.0,490.9 L823.6,478.6 L858.2,484.1" stroke="#f04848"/><path d="M650.5,494.7 L685.1,492.3 L719.7,497.9 L754.4,495.0 L789.0,491.5 L823.6,482.8 L858.2,484.1" stroke="#f04848"/><path d="M650.5,490.7 L685.1,488.8 L719.7,492.2 L754.4,491.7 L789.0,489.1 L823.6,476.5 L858.2,483.0" stroke="#4848f0"/><path d="M650.5,493.6 L685.1,491.0 L719.7,495.0 L754.4,494.6 L789.0,490.3 L823.6,478.9 L858.2,483.0" stroke="#4848f0"/><path d="M650.5,486.5 L685.1,485.0 L719.7,490.6 L754.4,488.1 L789.0,483.9 L823.6,470.1 L858.2,469.3" stroke="#38e038"/><path d="M650.5,490.3 L685.1,487.9 L719.7,492.4 L754.4,489.2 L789.0,484.8 L823.6,471.7 L858.2,469.3" stroke="#38e038"/><path d="M650.5,483.7 L685.1,481.4 L719.7,486.0 L754.4,484.7 L789.0,480.5 L823.6,465.5 L858.2,462.9" stroke="#f048f0"/><path d="M650.5,485.2 L685.1,482.2 L719.7,487.8 L754.4,485.3 L789.0,481.9 L823.6,468.0 L858.2,462.9" stroke="#f048f0"/><path d="M650.5,482.3 L685.1,479.2 L719.7,485.3 L754.4,480.7 L789.0,477.0 L823.6,461.0 L858.2,456.6" stroke="#2a2a2a"/><path d="M650.5,484.7 L685.1,480.6 L719.7,485.8 L754.4,484.1 L789.0,478.2 L823.6,463.2 L858.2,456.6" stroke="#2a2a2a"/><path d="M650.5,479.3 L685.1,475.5 L719.7,482.9 L754.4,478.9 L789.0,472.2 L823.6,454.3 L858.2,448.7" stroke="#f04848"/><path d="M650.5,478.8 L685.1,475.4 L719.7,480.7 L754.4,479.3 L789.0,474.8 L823.6,457.3 L858.2,448.7" stroke="#f04848"/><path d="M650.5,473.4 L685.1,469.0 L719.7,475.8 L754.4,474.7 L789.0,468.7 L823.6,449.9 L858.2,442.8" stroke="#4848f0"/><path d="M650.5,477.7 L685.1,474.7 L719.7,481.3 L754.4,476.3 L789.0,470.7 L823.6,452.4 L858.2,442.8" stroke="#4848f0"/><path d="M650.5,469.5 L685.1,465.2 L719.7,473.2 L754.4,469.2 L789.0,465.4 L823.6,444.6 L858.2,436.5" stroke="#38e038"/><path d="M650.5,472.5 L685.1,469.4 L719.7,475.9 L754.4,473.4 L789.0,466.9 L823.6,447.7 L858.2,436.5" stroke="#38e038"/><path d="M650.5,466.0 L685.1,463.0 L719.7,470.4 L754.4,466.0 L789.0,461.7 L823.6,439.2 L858.2,428.0" stroke="#f048f0"/><path d="M650.5,469.4 L685.1,465.0 L719.7,472.5 L754.4,469.0 L789.0,463.1 L823.6,443.1 L858.2,428.0" stroke="#f048f0"/><path d="M650.5,459.4 L685.1,457.2 L719.7,465.9 L754.4,461.6 L789.0,456.4 L823.6,432.5 L858.2,420.4" stroke="#2a2a2a"/><path d="M650.5,460.0 L685.1,458.5 L719.7,466.5 L754.4,462.5 L789.0,457.5 L823.6,434.0 L858.2,420.4" stroke="#2a2a2a"/></g><g stroke-width="1.45"><path d="M927.5,535.1 L962.1,530.9 L996.7,532.9 L1031.4,530.7 L1066.0,530.1 L1100.6,532.3 L1135.2,533.4" stroke="#f04848"/><path d="M927.5,536.4 L962.1,533.5 L996.7,534.3 L1031.4,533.5 L1066.0,532.0 L1100.6,534.4 L1135.2,533.4" stroke="#f04848"/><path d="M927.5,530.4 L962.1,527.6 L996.7,529.0 L1031.4,528.5 L1066.0,528.9 L1100.6,528.5 L1135.2,531.0" stroke="#4848f0"/><path d="M927.5,532.5 L962.1,531.7 L996.7,530.7 L1031.4,531.0 L1066.0,529.9 L1100.6,531.6 L1135.2,531.0" stroke="#4848f0"/><path d="M927.5,529.6 L962.1,526.8 L996.7,527.8 L1031.4,527.5 L1066.0,526.3 L1100.6,526.0 L1135.2,529.0" stroke="#38e038"/><path d="M927.5,531.0 L962.1,527.8 L996.7,528.1 L1031.4,529.1 L1066.0,527.9 L1100.6,529.5 L1135.2,529.0" stroke="#38e038"/><path d="M927.5,528.2 L962.1,525.7 L996.7,527.0 L1031.4,524.5 L1066.0,525.1 L1100.6,524.0 L1135.2,526.8" stroke="#f048f0"/><path d="M927.5,530.3 L962.1,528.2 L996.7,528.5 L1031.4,526.9 L1066.0,525.7 L1100.6,526.4 L1135.2,526.8" stroke="#f048f0"/><path d="M927.5,524.5 L962.1,521.3 L996.7,523.5 L1031.4,522.0 L1066.0,522.2 L1100.6,521.7 L1135.2,524.7" stroke="#2a2a2a"/><path d="M927.5,524.4 L962.1,522.9 L996.7,523.5 L1031.4,523.3 L1066.0,523.2 L1100.6,525.3 L1135.2,524.7" stroke="#2a2a2a"/><path d="M927.5,522.5 L962.1,520.5 L996.7,520.4 L1031.4,520.3 L1066.0,520.5 L1100.6,518.7 L1135.2,520.9" stroke="#f04848"/><path d="M927.5,524.3 L962.1,521.3 L996.7,523.2 L1031.4,521.4 L1066.0,520.7 L1100.6,521.6 L1135.2,520.9" stroke="#f04848"/><path d="M927.5,517.6 L962.1,515.8 L996.7,516.5 L1031.4,516.0 L1066.0,515.2 L1100.6,514.2 L1135.2,516.0" stroke="#4848f0"/><path d="M927.5,518.4 L962.1,517.4 L996.7,518.0 L1031.4,518.1 L1066.0,517.4 L1100.6,517.8 L1135.2,516.0" stroke="#4848f0"/><path d="M927.5,517.2 L962.1,514.7 L996.7,515.3 L1031.4,514.4 L1066.0,514.1 L1100.6,513.0 L1135.2,512.6" stroke="#38e038"/><path d="M927.5,518.5 L962.1,514.6 L996.7,517.0 L1031.4,514.8 L1066.0,515.9 L1100.6,513.7 L1135.2,512.6" stroke="#38e038"/><path d="M927.5,515.8 L962.1,514.0 L996.7,513.5 L1031.4,511.4 L1066.0,512.6 L1100.6,510.1 L1135.2,510.4" stroke="#f048f0"/><path d="M927.5,514.0 L962.1,512.1 L996.7,512.9 L1031.4,511.6 L1066.0,511.7 L1100.6,512.3 L1135.2,510.4" stroke="#f048f0"/><path d="M927.5,509.7 L962.1,508.6 L996.7,509.8 L1031.4,508.3 L1066.0,507.4 L1100.6,504.8 L1135.2,503.8" stroke="#2a2a2a"/><path d="M927.5,511.6 L962.1,509.8 L996.7,511.0 L1031.4,508.9 L1066.0,509.8 L1100.6,507.9 L1135.2,503.8" stroke="#2a2a2a"/><path d="M927.5,507.4 L962.1,506.3 L996.7,507.0 L1031.4,504.3 L1066.0,505.1 L1100.6,500.8 L1135.2,497.2" stroke="#f04848"/><path d="M927.5,510.4 L962.1,507.6 L996.7,508.3 L1031.4,506.9 L1066.0,506.5 L1100.6,503.0 L1135.2,497.2" stroke="#f04848"/><path d="M927.5,503.5 L962.1,502.7 L996.7,503.3 L1031.4,502.0 L1066.0,501.5 L1100.6,495.9 L1135.2,493.0" stroke="#4848f0"/><path d="M927.5,506.5 L962.1,505.8 L996.7,505.3 L1031.4,504.6 L1066.0,503.6 L1100.6,499.1 L1135.2,493.0" stroke="#4848f0"/><path d="M927.5,503.9 L962.1,501.9 L996.7,501.4 L1031.4,500.5 L1066.0,498.4 L1100.6,494.1 L1135.2,490.6" stroke="#38e038"/><path d="M927.5,507.0 L962.1,504.1 L996.7,504.3 L1031.4,502.7 L1066.0,502.1 L1100.6,497.5 L1135.2,490.6" stroke="#38e038"/><path d="M927.5,501.9 L962.1,500.4 L996.7,500.2 L1031.4,497.3 L1066.0,496.3 L1100.6,491.0 L1135.2,486.2" stroke="#f048f0"/><path d="M927.5,502.5 L962.1,499.9 L996.7,500.1 L1031.4,499.2 L1066.0,497.5 L1100.6,493.1 L1135.2,486.2" stroke="#f048f0"/><path d="M927.5,496.1 L962.1,493.9 L996.7,494.8 L1031.4,493.6 L1066.0,492.2 L1100.6,485.8 L1135.2,480.7" stroke="#2a2a2a"/><path d="M927.5,500.4 L962.1,498.6 L996.7,500.2 L1031.4,497.1 L1066.0,495.7 L1100.6,488.8 L1135.2,480.7" stroke="#2a2a2a"/><path d="M927.5,495.7 L962.1,494.7 L996.7,494.2 L1031.4,491.7 L1066.0,489.9 L1100.6,481.1 L1135.2,473.0" stroke="#f04848"/><path d="M927.5,497.4 L962.1,496.5 L996.7,496.8 L1031.4,493.4 L1066.0,490.4 L1100.6,483.9 L1135.2,473.0" stroke="#f04848"/><path d="M927.5,491.4 L962.1,490.9 L996.7,492.2 L1031.4,488.8 L1066.0,487.1 L1100.6,476.8 L1135.2,468.6" stroke="#4848f0"/><path d="M927.5,494.7 L962.1,493.0 L996.7,492.9 L1031.4,488.9 L1066.0,489.0 L1100.6,480.8 L1135.2,468.6" stroke="#4848f0"/><path d="M927.5,489.1 L962.1,488.9 L996.7,489.3 L1031.4,485.2 L1066.0,482.6 L1100.6,471.8 L1135.2,460.9" stroke="#38e038"/><path d="M927.5,489.7 L962.1,488.7 L996.7,489.8 L1031.4,485.2 L1066.0,484.4 L1100.6,474.1 L1135.2,460.9" stroke="#38e038"/><path d="M927.5,537.8 L962.1,568.2 L996.7,544.4 L1031.4,532.3 L1066.0,531.0 L1100.6,530.0 L1135.2,530.0" stroke="#2a2a2a"/><path d="M962.1,546.2 L996.7,532.3 L1031.4,528.0 L1066.0,526.0 L1100.6,524.0 L1135.2,522.0" stroke="#f04848"/></g></g>
<g stroke-width="4.3" stroke-linecap="round" fill="none"><path d="M95.09,125.8h0.02M129.71,117.0h0.02M164.33,104.8h0.02M198.95,87.3h0.02M233.57,60.9h0.02M268.19,41.7h0.02M302.81,43.7h0.02M95.09,133.2h0.02M129.71,129.7h0.02M164.33,123.8h0.02M198.95,113.1h0.02M233.57,96.8h0.02M268.19,69.7h0.02M302.81,43.7h0.02M95.09,238.2h0.02M129.71,237.0h0.02M164.33,233.6h0.02M198.95,231.6h0.02M233.57,224.8h0.02M268.19,218.9h0.02M302.81,218.2h0.02M95.09,239.5h0.02M129.71,239.5h0.02M164.33,239.2h0.02M198.95,237.3h0.02M233.57,231.6h0.02M268.19,224.6h0.02M302.81,218.2h0.02M372.99,248.6h0.02M407.61,247.4h0.02M442.23,248.1h0.02M476.85,247.2h0.02M511.47,245.2h0.02M546.09,239.8h0.02M580.71,236.3h0.02M372.99,251.1h0.02M407.61,249.4h0.02M442.23,250.1h0.02M476.85,249.0h0.02M511.47,246.7h0.02M546.09,241.3h0.02M580.71,236.3h0.02M372.99,210.0h0.02M407.61,214.5h0.02M442.23,218.5h0.02M476.85,218.1h0.02M511.47,214.3h0.02M546.09,201.1h0.02M580.71,198.8h0.02M372.99,216.0h0.02M407.61,221.5h0.02M442.23,221.5h0.02M476.85,220.1h0.02M511.47,216.3h0.02M546.09,205.1h0.02M580.71,198.8h0.02M650.39,270.8h0.02M685.01,269.9h0.02M719.63,268.2h0.02M754.25,266.7h0.02M788.87,263.1h0.02M823.49,260.5h0.02M858.11,258.4h0.02M650.39,270.6h0.02M685.01,269.5h0.02M719.63,270.0h0.02M754.25,268.7h0.02M788.87,264.6h0.02M823.49,262.8h0.02M858.11,258.4h0.02M650.39,257.9h0.02M685.01,257.6h0.02M719.63,256.7h0.02M754.25,252.9h0.02M788.87,248.7h0.02M823.49,241.3h0.02M858.11,239.6h0.02M650.39,261.5h0.02M685.01,259.9h0.02M719.63,258.3h0.02M754.25,256.0h0.02M788.87,250.8h0.02M823.49,243.6h0.02M858.11,239.6h0.02M650.39,251.1h0.02M685.01,248.3h0.02M719.63,245.2h0.02M754.25,241.7h0.02M788.87,233.3h0.02M823.49,221.5h0.02M858.11,212.5h0.02M650.39,253.2h0.02M685.01,250.4h0.02M719.63,248.1h0.02M754.25,243.8h0.02M788.87,236.1h0.02M823.49,223.5h0.02M858.11,212.5h0.02M650.39,244.5h0.02M685.01,240.5h0.02M719.63,236.5h0.02M754.25,230.5h0.02M788.87,219.5h0.02M823.49,197.5h0.02M858.11,187.5h0.02M929.79,268.2h0.02M964.41,268.7h0.02M999.03,267.0h0.02M1033.65,266.8h0.02M1068.27,266.6h0.02M1102.89,262.3h0.02M1137.51,264.7h0.02M929.79,272.2h0.02M964.41,270.1h0.02M999.03,269.0h0.02M1033.65,268.8h0.02M1068.27,268.8h0.02M1102.89,265.5h0.02M1137.51,264.7h0.02M929.79,259.3h0.02M964.41,256.8h0.02M999.03,255.2h0.02M1033.65,253.3h0.02M1068.27,250.2h0.02M1102.89,239.9h0.02M1137.51,238.7h0.02M929.79,260.8h0.02M964.41,259.0h0.02M999.03,258.7h0.02M1033.65,256.0h0.02M1068.27,253.9h0.02M1102.89,242.7h0.02M1137.51,238.7h0.02M929.79,247.2h0.02M964.41,245.7h0.02M999.03,242.4h0.02M1033.65,238.5h0.02M1068.27,234.3h0.02M1102.89,218.0h0.02M1137.51,212.2h0.02M929.79,248.0h0.02M964.41,247.4h0.02M999.03,244.7h0.02M1033.65,240.3h0.02M1068.27,236.5h0.02M1102.89,219.7h0.02M1137.51,212.2h0.02M929.79,231.0h0.02M964.41,227.5h0.02M999.03,224.0h0.02M1033.65,219.0h0.02M1068.27,212.5h0.02M1102.89,186.0h0.02M1137.51,174.8h0.02M929.79,232.5h0.02M964.41,229.5h0.02M999.03,226.5h0.02M1033.65,221.5h0.02M1068.27,214.0h0.02M1102.89,197.5h0.02M1137.51,174.8h0.02M929.79,287.5h0.02M964.41,248.8h0.02M999.03,246.0h0.02M1033.65,244.0h0.02M1068.27,240.0h0.02M1102.89,232.5h0.02M1137.51,202.6h0.02M95.09,436.5h0.02M129.71,442.0h0.02M164.33,445.4h0.02M198.95,440.4h0.02M233.57,430.1h0.02M268.19,401.6h0.02M302.81,417.7h0.02M95.09,450.3h0.02M129.71,452.3h0.02M164.33,448.1h0.02M198.95,444.0h0.02M233.57,442.6h0.02M268.19,428.2h0.02M302.81,417.7h0.02M95.09,503.5h0.02M129.71,508.5h0.02M164.33,509.6h0.02M198.95,506.8h0.02M233.57,506.3h0.02M268.19,494.6h0.02M302.81,493.8h0.02M95.09,510.4h0.02M129.71,516.0h0.02M164.33,511.8h0.02M198.95,509.0h0.02M233.57,507.6h0.02M268.19,499.3h0.02M302.81,493.8h0.02M372.99,501.5h0.02M407.61,499.9h0.02M442.23,499.9h0.02M476.85,499.9h0.02M511.47,487.5h0.02M546.09,462.2h0.02M580.71,467.4h0.02M372.99,503.0h0.02M407.61,501.5h0.02M442.23,501.5h0.02M476.85,501.5h0.02M511.47,492.2h0.02M546.09,478.9h0.02M580.71,467.4h0.02M372.99,527.7h0.02M407.61,529.3h0.02M442.23,530.2h0.02M476.85,529.3h0.02M511.47,521.6h0.02M546.09,512.9h0.02M580.71,510.7h0.02M372.99,528.4h0.02M407.61,530.8h0.02M442.23,530.8h0.02M476.85,530.8h0.02M511.47,524.7h0.02M546.09,515.4h0.02M580.71,510.7h0.02M372.99,540.7h0.02M407.61,542.6h0.02M442.23,542.3h0.02M476.85,542.3h0.02M511.47,540.7h0.02M546.09,538.6h0.02M580.71,538.9h0.02M372.99,541.4h0.02M407.61,543.2h0.02M442.23,542.9h0.02M476.85,542.6h0.02M511.47,541.0h0.02M546.09,538.9h0.02M580.71,538.9h0.02M650.49,514.0h0.02M685.11,513.1h0.02M719.73,514.1h0.02M754.35,514.5h0.02M788.97,511.4h0.02M823.59,507.2h0.02M858.21,513.7h0.02M650.49,518.2h0.02M685.11,516.4h0.02M719.73,518.4h0.02M754.35,517.8h0.02M788.97,514.6h0.02M823.59,510.1h0.02M858.21,513.7h0.02M650.49,496.2h0.02M685.11,494.5h0.02M719.73,497.7h0.02M754.35,496.1h0.02M788.97,493.2h0.02M823.59,482.6h0.02M858.21,486.2h0.02M650.49,498.6h0.02M685.11,498.2h0.02M719.73,501.4h0.02M754.35,498.7h0.02M788.97,495.7h0.02M823.59,485.7h0.02M858.21,486.2h0.02M650.49,482.3h0.02M685.11,479.2h0.02M719.73,485.3h0.02M754.35,480.7h0.02M788.97,477.0h0.02M823.59,461.0h0.02M858.21,456.6h0.02M650.49,484.7h0.02M685.11,480.6h0.02M719.73,485.8h0.02M754.35,484.1h0.02M788.97,478.2h0.02M823.59,463.2h0.02M858.21,456.6h0.02M650.49,459.4h0.02M685.11,457.2h0.02M719.73,465.9h0.02M754.35,461.6h0.02M788.97,456.4h0.02M823.59,432.5h0.02M858.21,420.4h0.02M650.49,460.0h0.02M685.11,458.5h0.02M719.73,466.5h0.02M754.35,462.5h0.02M788.97,457.5h0.02M823.59,434.0h0.02M858.21,420.4h0.02M927.49,524.5h0.02M962.11,521.3h0.02M996.73,523.5h0.02M1031.35,522.0h0.02M1065.97,522.2h0.02M1100.59,521.7h0.02M1135.21,524.7h0.02M927.49,524.4h0.02M962.11,522.9h0.02M996.73,523.5h0.02M1031.35,523.3h0.02M1065.97,523.2h0.02M1100.59,525.3h0.02M1135.21,524.7h0.02M927.49,509.7h0.02M962.11,508.6h0.02M996.73,509.8h0.02M1031.35,508.3h0.02M1065.97,507.4h0.02M1100.59,504.8h0.02M1135.21,503.8h0.02M927.49,511.6h0.02M962.11,509.8h0.02M996.73,511.0h0.02M1031.35,508.9h0.02M1065.97,509.8h0.02M1100.59,507.9h0.02M1135.21,503.8h0.02M927.49,496.1h0.02M962.11,493.9h0.02M996.73,494.8h0.02M1031.35,493.6h0.02M1065.97,492.2h0.02M1100.59,485.8h0.02M1135.21,480.7h0.02M927.49,500.4h0.02M962.11,498.6h0.02M996.73,500.2h0.02M1031.35,497.1h0.02M1065.97,495.7h0.02M1100.59,488.8h0.02M1135.21,480.7h0.02M927.49,537.8h0.02M962.11,568.2h0.02M996.73,544.4h0.02M1031.35,532.3h0.02M1065.97,531.0h0.02M1100.59,530.0h0.02M1135.21,530.0h0.02" stroke="#111111"/><path d="M95.09,143.3h0.02M129.71,135.1h0.02M164.33,123.8h0.02M198.95,106.2h0.02M233.57,82.2h0.02M268.19,64.2h0.02M302.81,69.7h0.02M95.09,155.2h0.02M129.71,147.3h0.02M164.33,142.0h0.02M198.95,132.6h0.02M233.57,117.4h0.02M268.19,95.1h0.02M302.81,69.7h0.02M95.09,254.9h0.02M129.71,253.9h0.02M164.33,253.9h0.02M198.95,253.6h0.02M233.57,248.8h0.02M268.19,243.1h0.02M302.81,240.9h0.02M95.09,255.4h0.02M129.71,254.9h0.02M164.33,255.4h0.02M198.95,253.9h0.02M233.57,251.2h0.02M268.19,246.3h0.02M302.81,240.9h0.02M372.99,252.2h0.02M407.61,253.2h0.02M442.23,253.9h0.02M476.85,254.4h0.02M511.47,252.7h0.02M546.09,247.8h0.02M580.71,244.9h0.02M372.99,254.8h0.02M407.61,255.2h0.02M442.23,255.9h0.02M476.85,256.2h0.02M511.47,254.2h0.02M546.09,249.2h0.02M580.71,244.9h0.02M372.99,216.6h0.02M407.61,227.3h0.02M442.23,226.1h0.02M476.85,223.7h0.02M511.47,219.9h0.02M546.09,206.8h0.02M580.71,205.9h0.02M372.99,221.1h0.02M407.61,229.8h0.02M442.23,228.1h0.02M476.85,225.7h0.02M511.47,221.9h0.02M546.09,208.8h0.02M580.71,205.9h0.02M650.39,270.4h0.02M685.01,270.3h0.02M719.63,269.4h0.02M754.25,268.0h0.02M788.87,266.5h0.02M823.49,263.8h0.02M858.11,263.0h0.02M650.39,274.1h0.02M685.01,273.9h0.02M719.63,272.9h0.02M754.25,271.7h0.02M788.87,269.0h0.02M823.49,265.7h0.02M858.11,263.0h0.02M650.39,261.4h0.02M685.01,260.6h0.02M719.63,259.3h0.02M754.25,255.7h0.02M788.87,252.4h0.02M823.49,245.4h0.02M858.11,243.4h0.02M650.39,262.7h0.02M685.01,261.2h0.02M719.63,260.3h0.02M754.25,257.4h0.02M788.87,254.0h0.02M823.49,247.8h0.02M858.11,243.4h0.02M650.39,254.7h0.02M685.01,251.7h0.02M719.63,250.4h0.02M754.25,245.9h0.02M788.87,238.6h0.02M823.49,225.6h0.02M858.11,219.0h0.02M650.39,258.2h0.02M685.01,254.2h0.02M719.63,252.1h0.02M754.25,247.9h0.02M788.87,240.1h0.02M823.49,228.2h0.02M858.11,219.0h0.02M650.39,244.5h0.02M685.01,241.2h0.02M719.63,237.8h0.02M754.25,231.8h0.02M788.87,221.0h0.02M823.49,204.0h0.02M858.11,190.0h0.02M650.39,246.2h0.02M685.01,243.6h0.02M719.63,240.0h0.02M754.25,233.5h0.02M788.87,222.5h0.02M823.49,206.5h0.02M858.11,190.0h0.02M929.79,271.6h0.02M964.41,270.7h0.02M999.03,270.1h0.02M1033.65,270.8h0.02M1068.27,268.4h0.02M1102.89,266.0h0.02M1137.51,269.2h0.02M929.79,273.4h0.02M964.41,273.6h0.02M999.03,272.5h0.02M1033.65,271.9h0.02M1068.27,272.4h0.02M1102.89,268.9h0.02M1137.51,269.2h0.02M929.79,260.2h0.02M964.41,257.5h0.02M999.03,256.8h0.02M1033.65,256.1h0.02M1068.27,253.1h0.02M1102.89,245.7h0.02M1137.51,244.3h0.02M929.79,261.6h0.02M964.41,260.8h0.02M999.03,258.4h0.02M1033.65,257.8h0.02M1068.27,255.1h0.02M1102.89,248.2h0.02M1137.51,244.3h0.02M929.79,250.9h0.02M964.41,248.8h0.02M999.03,245.4h0.02M1033.65,243.1h0.02M1068.27,237.0h0.02M1102.89,221.6h0.02M1137.51,215.9h0.02M929.79,251.2h0.02M964.41,249.0h0.02M999.03,245.9h0.02M1033.65,243.4h0.02M1068.27,238.0h0.02M1102.89,222.5h0.02M1137.51,215.9h0.02M929.79,238.9h0.02M964.41,235.2h0.02M999.03,232.8h0.02M1033.65,227.8h0.02M1068.27,222.1h0.02M1102.89,197.5h0.02M1137.51,188.4h0.02M929.79,242.0h0.02M964.41,238.5h0.02M999.03,234.4h0.02M1033.65,229.5h0.02M1068.27,224.0h0.02M1102.89,200.2h0.02M1137.51,188.4h0.02M95.09,451.5h0.02M129.71,456.4h0.02M164.33,450.9h0.02M198.95,462.5h0.02M233.57,444.0h0.02M268.19,423.8h0.02M302.81,436.5h0.02M95.09,464.7h0.02M129.71,463.4h0.02M164.33,461.4h0.02M198.95,462.5h0.02M233.57,457.8h0.02M268.19,447.6h0.02M302.81,436.5h0.02M95.09,511.8h0.02M129.71,518.7h0.02M164.33,520.1h0.02M198.95,520.1h0.02M233.57,514.6h0.02M268.19,507.6h0.02M302.81,505.7h0.02M95.09,521.5h0.02M129.71,520.1h0.02M164.33,520.1h0.02M198.95,519.5h0.02M233.57,517.3h0.02M268.19,513.2h0.02M302.81,505.7h0.02M372.99,465.3h0.02M407.61,465.3h0.02M442.23,465.3h0.02M476.85,454.1h0.02M511.47,444.2h0.02M546.09,387.9h0.02M580.71,416.4h0.02M372.99,469.6h0.02M407.61,469.6h0.02M442.23,469.6h0.02M476.85,462.8h0.02M511.47,456.0h0.02M546.09,441.8h0.02M580.71,416.4h0.02M372.99,506.1h0.02M407.61,506.1h0.02M442.23,507.6h0.02M476.85,506.1h0.02M511.47,496.8h0.02M546.09,475.2h0.02M580.71,478.3h0.02M372.99,507.6h0.02M407.61,509.2h0.02M442.23,510.7h0.02M476.85,510.7h0.02M511.47,503.0h0.02M546.09,492.2h0.02M580.71,478.3h0.02M372.99,530.8h0.02M407.61,532.4h0.02M442.23,533.3h0.02M476.85,532.4h0.02M511.47,527.7h0.02M546.09,518.5h0.02M580.71,520.0h0.02M372.99,531.5h0.02M407.61,533.9h0.02M442.23,533.9h0.02M476.85,533.9h0.02M511.47,529.3h0.02M546.09,521.6h0.02M580.71,520.0h0.02M372.99,541.4h0.02M407.61,543.2h0.02M442.23,543.2h0.02M476.85,542.9h0.02M511.47,541.4h0.02M546.09,539.2h0.02M580.71,538.3h0.02M372.99,541.7h0.02M407.61,543.8h0.02M442.23,543.5h0.02M476.85,543.2h0.02M511.47,541.7h0.02M546.09,539.2h0.02M580.71,538.3h0.02M650.49,520.8h0.02M685.11,518.3h0.02M719.73,519.5h0.02M754.35,518.6h0.02M788.97,517.3h0.02M823.59,512.4h0.02M858.21,518.0h0.02M650.49,521.2h0.02M685.11,518.2h0.02M719.73,519.7h0.02M754.35,520.0h0.02M788.97,516.9h0.02M823.59,514.0h0.02M858.21,518.0h0.02M650.49,502.0h0.02M685.11,500.0h0.02M719.73,501.7h0.02M754.35,502.0h0.02M788.97,498.4h0.02M823.59,488.8h0.02M858.21,489.4h0.02M650.49,504.8h0.02M685.11,502.4h0.02M719.73,504.7h0.02M754.35,504.0h0.02M788.97,499.3h0.02M823.59,489.7h0.02M858.21,489.4h0.02M650.49,483.7h0.02M685.11,481.4h0.02M719.73,486.0h0.02M754.35,484.7h0.02M788.97,480.5h0.02M823.59,465.5h0.02M858.21,462.9h0.02M650.49,485.2h0.02M685.11,482.2h0.02M719.73,487.8h0.02M754.35,485.3h0.02M788.97,481.9h0.02M823.59,468.0h0.02M858.21,462.9h0.02M650.49,466.0h0.02M685.11,463.0h0.02M719.73,470.4h0.02M754.35,466.0h0.02M788.97,461.7h0.02M823.59,439.2h0.02M858.21,428.0h0.02M650.49,469.4h0.02M685.11,465.0h0.02M719.73,472.5h0.02M754.35,469.0h0.02M788.97,463.1h0.02M823.59,443.1h0.02M858.21,428.0h0.02M927.49,528.2h0.02M962.11,525.7h0.02M996.73,527.0h0.02M1031.35,524.5h0.02M1065.97,525.1h0.02M1100.59,524.0h0.02M1135.21,526.8h0.02M927.49,530.3h0.02M962.11,528.2h0.02M996.73,528.5h0.02M1031.35,526.9h0.02M1065.97,525.7h0.02M1100.59,526.4h0.02M1135.21,526.8h0.02M927.49,515.8h0.02M962.11,514.0h0.02M996.73,513.5h0.02M1031.35,511.4h0.02M1065.97,512.6h0.02M1100.59,510.1h0.02M1135.21,510.4h0.02M927.49,514.0h0.02M962.11,512.1h0.02M996.73,512.9h0.02M1031.35,511.6h0.02M1065.97,511.7h0.02M1100.59,512.3h0.02M1135.21,510.4h0.02M927.49,501.9h0.02M962.11,500.4h0.02M996.73,500.2h0.02M1031.35,497.3h0.02M1065.97,496.3h0.02M1100.59,491.0h0.02M1135.21,486.2h0.02M927.49,502.5h0.02M962.11,499.9h0.02M996.73,500.1h0.02M1031.35,499.2h0.02M1065.97,497.5h0.02M1100.59,493.1h0.02M1135.21,486.2h0.02" stroke="#360836"/><path d="M95.09,167.4h0.02M129.71,163.2h0.02M164.33,154.2h0.02M198.95,140.5h0.02M233.57,119.9h0.02M268.19,106.8h0.02M302.81,114.6h0.02M95.09,177.9h0.02M129.71,176.2h0.02M164.33,172.5h0.02M198.95,166.4h0.02M233.57,156.1h0.02M268.19,134.6h0.02M302.81,114.6h0.02M95.09,264.6h0.02M129.71,265.1h0.02M164.33,265.1h0.02M198.95,264.6h0.02M233.57,261.7h0.02M268.19,258.0h0.02M302.81,254.1h0.02M95.09,266.6h0.02M129.71,267.1h0.02M164.33,266.6h0.02M198.95,265.9h0.02M233.57,262.9h0.02M268.19,259.3h0.02M302.81,254.1h0.02M372.99,258.1h0.02M407.61,259.8h0.02M442.23,260.5h0.02M476.85,260.4h0.02M511.47,258.6h0.02M546.09,255.2h0.02M580.71,253.4h0.02M372.99,260.6h0.02M407.61,261.8h0.02M442.23,262.5h0.02M476.85,262.2h0.02M511.47,260.1h0.02M546.09,256.8h0.02M580.71,253.4h0.02M372.99,223.0h0.02M407.61,232.4h0.02M442.23,230.5h0.02M476.85,229.3h0.02M511.47,226.5h0.02M546.09,215.3h0.02M580.71,213.4h0.02M372.99,230.0h0.02M407.61,234.9h0.02M442.23,232.5h0.02M476.85,231.3h0.02M511.47,228.5h0.02M546.09,217.3h0.02M580.71,213.4h0.02M650.39,273.5h0.02M685.01,272.8h0.02M719.63,272.6h0.02M754.25,270.5h0.02M788.87,269.7h0.02M823.49,267.3h0.02M858.11,266.8h0.02M650.39,276.2h0.02M685.01,274.4h0.02M719.63,273.7h0.02M754.25,272.6h0.02M788.87,272.3h0.02M823.49,269.9h0.02M858.11,266.8h0.02M650.39,263.6h0.02M685.01,262.6h0.02M719.63,261.2h0.02M754.25,258.8h0.02M788.87,255.1h0.02M823.49,249.5h0.02M858.11,247.1h0.02M650.39,265.6h0.02M685.01,264.9h0.02M719.63,262.6h0.02M754.25,260.4h0.02M788.87,257.8h0.02M823.49,251.3h0.02M858.11,247.1h0.02M650.39,253.9h0.02M685.01,252.8h0.02M719.63,250.3h0.02M754.25,247.1h0.02M788.87,240.1h0.02M823.49,229.1h0.02M858.11,226.5h0.02M650.39,257.2h0.02M685.01,254.1h0.02M719.63,252.0h0.02M754.25,248.6h0.02M788.87,242.3h0.02M823.49,232.2h0.02M858.11,226.5h0.02M650.39,246.4h0.02M685.01,243.0h0.02M719.63,239.5h0.02M754.25,234.5h0.02M788.87,223.3h0.02M823.49,207.6h0.02M858.11,194.7h0.02M650.39,247.1h0.02M685.01,244.0h0.02M719.63,242.0h0.02M754.25,236.4h0.02M788.87,225.3h0.02M823.49,210.8h0.02M858.11,194.7h0.02M929.79,272.9h0.02M964.41,273.5h0.02M999.03,271.9h0.02M1033.65,273.4h0.02M1068.27,272.7h0.02M1102.89,270.5h0.02M1137.51,272.5h0.02M929.79,275.6h0.02M964.41,275.0h0.02M999.03,274.9h0.02M1033.65,274.8h0.02M1068.27,273.7h0.02M1102.89,272.6h0.02M1137.51,272.5h0.02M929.79,263.3h0.02M964.41,262.0h0.02M999.03,260.3h0.02M1033.65,261.0h0.02M1068.27,258.6h0.02M1102.89,252.2h0.02M1137.51,255.5h0.02M929.79,261.8h0.02M964.41,261.3h0.02M999.03,261.5h0.02M1033.65,259.9h0.02M1068.27,258.8h0.02M1102.89,254.8h0.02M1137.51,255.5h0.02M929.79,253.5h0.02M964.41,250.1h0.02M999.03,247.9h0.02M1033.65,246.4h0.02M1068.27,242.6h0.02M1102.89,229.6h0.02M1137.51,227.1h0.02M929.79,254.5h0.02M964.41,251.9h0.02M999.03,251.3h0.02M1033.65,247.1h0.02M1068.27,245.2h0.02M1102.89,230.8h0.02M1137.51,227.1h0.02M929.79,240.1h0.02M964.41,237.7h0.02M999.03,234.9h0.02M1033.65,231.2h0.02M1068.27,225.9h0.02M1102.89,204.5h0.02M1137.51,197.6h0.02M929.79,240.0h0.02M964.41,238.7h0.02M999.03,234.9h0.02M1033.65,232.4h0.02M1068.27,227.6h0.02M1102.89,206.8h0.02M1137.51,197.6h0.02M95.09,472.5h0.02M129.71,472.2h0.02M164.33,475.8h0.02M198.95,473.6h0.02M233.57,464.2h0.02M268.19,447.6h0.02M302.81,449.5h0.02M95.09,473.0h0.02M129.71,478.6h0.02M164.33,476.4h0.02M198.95,474.4h0.02M233.57,470.3h0.02M268.19,460.6h0.02M302.81,449.5h0.02M95.09,524.3h0.02M129.71,529.8h0.02M164.33,529.8h0.02M198.95,529.0h0.02M233.57,527.0h0.02M268.19,522.3h0.02M302.81,517.9h0.02M95.09,527.0h0.02M129.71,532.6h0.02M164.33,532.6h0.02M198.95,531.2h0.02M233.57,528.4h0.02M268.19,524.3h0.02M302.81,517.9h0.02M372.99,472.1h0.02M407.61,472.1h0.02M442.23,472.1h0.02M476.85,472.1h0.02M511.47,456.6h0.02M546.09,412.4h0.02M580.71,428.8h0.02M372.99,479.8h0.02M407.61,479.8h0.02M442.23,479.8h0.02M476.85,476.7h0.02M511.47,464.3h0.02M546.09,448.9h0.02M580.71,428.8h0.02M372.99,513.8h0.02M407.61,515.4h0.02M442.23,515.4h0.02M476.85,515.4h0.02M511.47,503.0h0.02M546.09,487.5h0.02M580.71,489.1h0.02M372.99,515.4h0.02M407.61,517.9h0.02M442.23,518.5h0.02M476.85,517.9h0.02M511.47,510.7h0.02M546.09,498.4h0.02M580.71,489.1h0.02M372.99,532.4h0.02M407.61,535.5h0.02M442.23,536.4h0.02M476.85,535.5h0.02M511.47,532.4h0.02M546.09,526.2h0.02M580.71,529.3h0.02M372.99,533.9h0.02M407.61,537.0h0.02M442.23,537.0h0.02M476.85,537.0h0.02M511.47,533.9h0.02M546.09,529.3h0.02M580.71,529.3h0.02M372.99,542.0h0.02M407.61,544.1h0.02M442.23,543.8h0.02M476.85,543.5h0.02M511.47,542.0h0.02M546.09,539.5h0.02M580.71,538.6h0.02M372.99,542.3h0.02M407.61,544.5h0.02M442.23,544.1h0.02M476.85,543.5h0.02M511.47,542.0h0.02M546.09,539.5h0.02M580.71,538.6h0.02M650.49,521.3h0.02M685.11,520.6h0.02M719.73,520.4h0.02M754.35,520.6h0.02M788.97,518.0h0.02M823.59,514.7h0.02M858.21,521.2h0.02M650.49,523.7h0.02M685.11,522.3h0.02M719.73,522.4h0.02M754.35,522.7h0.02M788.97,520.8h0.02M823.59,517.8h0.02M858.21,521.2h0.02M650.49,506.4h0.02M685.11,504.2h0.02M719.73,506.6h0.02M754.35,504.9h0.02M788.97,502.2h0.02M823.59,493.5h0.02M858.21,496.8h0.02M650.49,505.1h0.02M685.11,504.2h0.02M719.73,506.8h0.02M754.35,506.1h0.02M788.97,504.3h0.02M823.59,495.7h0.02M858.21,496.8h0.02M650.49,486.5h0.02M685.11,485.0h0.02M719.73,490.6h0.02M754.35,488.1h0.02M788.97,483.9h0.02M823.59,470.1h0.02M858.21,469.3h0.02M650.49,490.3h0.02M685.11,487.9h0.02M719.73,492.4h0.02M754.35,489.2h0.02M788.97,484.8h0.02M823.59,471.7h0.02M858.21,469.3h0.02M650.49,469.5h0.02M685.11,465.2h0.02M719.73,473.2h0.02M754.35,469.2h0.02M788.97,465.4h0.02M823.59,444.6h0.02M858.21,436.5h0.02M650.49,472.5h0.02M685.11,469.4h0.02M719.73,475.9h0.02M754.35,473.4h0.02M788.97,466.9h0.02M823.59,447.7h0.02M858.21,436.5h0.02M927.49,529.6h0.02M962.11,526.8h0.02M996.73,527.8h0.02M1031.35,527.5h0.02M1065.97,526.3h0.02M1100.59,526.0h0.02M1135.21,529.0h0.02M927.49,531.0h0.02M962.11,527.8h0.02M996.73,528.1h0.02M1031.35,529.1h0.02M1065.97,527.9h0.02M1100.59,529.5h0.02M1135.21,529.0h0.02M927.49,517.2h0.02M962.11,514.7h0.02M996.73,515.3h0.02M1031.35,514.4h0.02M1065.97,514.1h0.02M1100.59,513.0h0.02M1135.21,512.6h0.02M927.49,518.5h0.02M962.11,514.6h0.02M996.73,517.0h0.02M1031.35,514.8h0.02M1065.97,515.9h0.02M1100.59,513.7h0.02M1135.21,512.6h0.02M927.49,503.9h0.02M962.11,501.9h0.02M996.73,501.4h0.02M1031.35,500.5h0.02M1065.97,498.4h0.02M1100.59,494.1h0.02M1135.21,490.6h0.02M927.49,507.0h0.02M962.11,504.1h0.02M996.73,504.3h0.02M1031.35,502.7h0.02M1065.97,502.1h0.02M1100.59,497.5h0.02M1135.21,490.6h0.02M927.49,489.1h0.02M962.11,488.9h0.02M996.73,489.3h0.02M1031.35,485.2h0.02M1065.97,482.6h0.02M1100.59,471.8h0.02M1135.21,460.9h0.02M927.49,489.7h0.02M962.11,488.7h0.02M996.73,489.8h0.02M1031.35,485.2h0.02M1065.97,484.4h0.02M1100.59,474.1h0.02M1135.21,460.9h0.02" stroke="#082e08"/><path d="M95.09,193.3h0.02M129.71,192.5h0.02M164.33,184.2h0.02M198.95,177.4h0.02M233.57,165.9h0.02M268.19,154.7h0.02M302.81,159.1h0.02M95.09,202.6h0.02M129.71,200.9h0.02M164.33,199.1h0.02M198.95,194.7h0.02M233.57,187.7h0.02M268.19,171.8h0.02M302.81,159.1h0.02M95.09,270.7h0.02M129.71,271.5h0.02M164.33,271.2h0.02M198.95,270.7h0.02M233.57,269.5h0.02M268.19,267.6h0.02M302.81,265.9h0.02M95.09,272.0h0.02M129.71,273.2h0.02M164.33,272.5h0.02M198.95,272.0h0.02M233.57,270.7h0.02M268.19,269.0h0.02M302.81,265.9h0.02M372.99,264.6h0.02M407.61,265.7h0.02M442.23,266.4h0.02M476.85,266.0h0.02M511.47,265.1h0.02M546.09,262.4h0.02M580.71,261.8h0.02M372.99,267.1h0.02M407.61,267.7h0.02M442.23,268.4h0.02M476.85,267.8h0.02M511.47,266.6h0.02M546.09,263.9h0.02M580.71,261.8h0.02M372.99,236.2h0.02M407.61,236.4h0.02M442.23,236.8h0.02M476.85,236.0h0.02M511.47,233.3h0.02M546.09,225.8h0.02M580.71,220.6h0.02M372.99,238.7h0.02M407.61,238.4h0.02M442.23,238.8h0.02M476.85,237.8h0.02M511.47,234.8h0.02M546.09,227.3h0.02M580.71,220.6h0.02M650.39,273.5h0.02M685.01,274.3h0.02M719.63,274.4h0.02M754.25,273.1h0.02M788.87,272.7h0.02M823.49,271.8h0.02M858.11,272.4h0.02M650.39,274.5h0.02M685.01,274.5h0.02M719.63,274.0h0.02M754.25,273.2h0.02M788.87,274.2h0.02M823.49,273.6h0.02M858.11,272.4h0.02M650.39,263.9h0.02M685.01,263.9h0.02M719.63,261.8h0.02M754.25,260.2h0.02M788.87,257.3h0.02M823.49,252.5h0.02M858.11,250.9h0.02M650.39,265.3h0.02M685.01,266.0h0.02M719.63,264.0h0.02M754.25,263.3h0.02M788.87,260.0h0.02M823.49,254.5h0.02M858.11,250.9h0.02M650.39,258.2h0.02M685.01,256.7h0.02M719.63,253.1h0.02M754.25,249.8h0.02M788.87,244.3h0.02M823.49,234.8h0.02M858.11,231.2h0.02M650.39,258.4h0.02M685.01,256.2h0.02M719.63,254.8h0.02M754.25,250.9h0.02M788.87,246.1h0.02M823.49,237.0h0.02M858.11,231.2h0.02M650.39,247.7h0.02M685.01,245.3h0.02M719.63,242.4h0.02M754.25,236.1h0.02M788.87,228.1h0.02M823.49,213.5h0.02M858.11,201.2h0.02M650.39,252.5h0.02M685.01,247.8h0.02M719.63,245.2h0.02M754.25,240.2h0.02M788.87,229.3h0.02M823.49,215.1h0.02M858.11,201.2h0.02M929.79,275.5h0.02M964.41,275.6h0.02M999.03,275.0h0.02M1033.65,275.2h0.02M1068.27,273.6h0.02M1102.89,273.4h0.02M1137.51,275.9h0.02M929.79,278.7h0.02M964.41,279.0h0.02M999.03,278.3h0.02M1033.65,276.6h0.02M1068.27,277.0h0.02M1102.89,276.9h0.02M1137.51,275.9h0.02M929.79,265.2h0.02M964.41,263.8h0.02M999.03,263.1h0.02M1033.65,261.4h0.02M1068.27,260.0h0.02M1102.89,255.3h0.02M1137.51,257.6h0.02M929.79,265.0h0.02M964.41,265.6h0.02M999.03,263.4h0.02M1033.65,262.3h0.02M1068.27,261.3h0.02M1102.89,257.1h0.02M1137.51,257.6h0.02M929.79,254.9h0.02M964.41,253.2h0.02M999.03,251.0h0.02M1033.65,247.9h0.02M1068.27,245.7h0.02M1102.89,233.0h0.02M1137.51,229.7h0.02M929.79,254.8h0.02M964.41,253.3h0.02M999.03,251.0h0.02M1033.65,247.9h0.02M1068.27,246.6h0.02M1102.89,233.4h0.02M1137.51,229.7h0.02M929.79,243.4h0.02M964.41,240.7h0.02M999.03,238.4h0.02M1033.65,233.8h0.02M1068.27,228.5h0.02M1102.89,206.6h0.02M1137.51,199.2h0.02M929.79,245.3h0.02M964.41,242.4h0.02M999.03,239.7h0.02M1033.65,235.6h0.02M1068.27,230.0h0.02M1102.89,210.5h0.02M1137.51,199.2h0.02M95.09,479.1h0.02M129.71,485.5h0.02M164.33,488.3h0.02M198.95,488.3h0.02M233.57,475.8h0.02M268.19,464.2h0.02M302.81,464.2h0.02M95.09,495.2h0.02M129.71,488.3h0.02M164.33,491.0h0.02M198.95,492.4h0.02M233.57,483.6h0.02M268.19,472.5h0.02M302.81,464.2h0.02M95.09,533.9h0.02M129.71,538.1h0.02M164.33,539.5h0.02M198.95,538.1h0.02M233.57,538.1h0.02M268.19,532.6h0.02M302.81,529.8h0.02M95.09,541.7h0.02M129.71,541.7h0.02M164.33,540.9h0.02M198.95,538.1h0.02M233.57,539.5h0.02M268.19,534.0h0.02M302.81,529.8h0.02M372.99,496.2h0.02M407.61,483.8h0.02M442.23,490.0h0.02M476.85,479.8h0.02M511.47,470.5h0.02M546.09,430.3h0.02M580.71,442.1h0.02M372.99,481.4h0.02M407.61,485.1h0.02M442.23,487.5h0.02M476.85,481.4h0.02M511.47,475.2h0.02M546.09,459.7h0.02M580.71,442.1h0.02M372.99,515.4h0.02M407.61,518.5h0.02M442.23,520.0h0.02M476.85,520.0h0.02M511.47,507.6h0.02M546.09,496.8h0.02M580.71,490.6h0.02M372.99,518.5h0.02M407.61,521.6h0.02M442.23,522.2h0.02M476.85,521.6h0.02M511.47,515.4h0.02M546.09,503.0h0.02M580.71,490.6h0.02M372.99,537.0h0.02M407.61,539.5h0.02M442.23,539.5h0.02M476.85,539.5h0.02M511.47,537.0h0.02M546.09,532.4h0.02M580.71,535.5h0.02M372.99,538.0h0.02M407.61,540.7h0.02M442.23,540.7h0.02M476.85,540.1h0.02M511.47,538.6h0.02M546.09,533.9h0.02M580.71,535.5h0.02M372.99,542.6h0.02M407.61,545.1h0.02M442.23,544.5h0.02M476.85,543.8h0.02M511.47,542.3h0.02M546.09,539.8h0.02M580.71,538.6h0.02M372.99,542.9h0.02M407.61,545.4h0.02M442.23,544.8h0.02M476.85,543.8h0.02M511.47,542.3h0.02M546.09,539.8h0.02M580.71,538.6h0.02M650.49,523.8h0.02M685.11,524.0h0.02M719.73,524.7h0.02M754.35,523.7h0.02M788.97,522.0h0.02M823.59,521.0h0.02M858.21,524.3h0.02M650.49,526.8h0.02M685.11,525.0h0.02M719.73,524.7h0.02M754.35,524.5h0.02M788.97,523.7h0.02M823.59,523.1h0.02M858.21,524.3h0.02M650.49,506.5h0.02M685.11,505.3h0.02M719.73,508.7h0.02M754.35,506.1h0.02M788.97,504.4h0.02M823.59,497.3h0.02M858.21,501.0h0.02M650.49,513.1h0.02M685.11,511.1h0.02M719.73,511.6h0.02M754.35,510.5h0.02M788.97,507.3h0.02M823.59,501.1h0.02M858.21,501.0h0.02M650.49,490.7h0.02M685.11,488.8h0.02M719.73,492.2h0.02M754.35,491.7h0.02M788.97,489.1h0.02M823.59,476.5h0.02M858.21,483.0h0.02M650.49,493.6h0.02M685.11,491.0h0.02M719.73,495.0h0.02M754.35,494.6h0.02M788.97,490.3h0.02M823.59,478.9h0.02M858.21,483.0h0.02M650.49,473.4h0.02M685.11,469.0h0.02M719.73,475.8h0.02M754.35,474.7h0.02M788.97,468.7h0.02M823.59,449.9h0.02M858.21,442.8h0.02M650.49,477.7h0.02M685.11,474.7h0.02M719.73,481.3h0.02M754.35,476.3h0.02M788.97,470.7h0.02M823.59,452.4h0.02M858.21,442.8h0.02M927.49,530.4h0.02M962.11,527.6h0.02M996.73,529.0h0.02M1031.35,528.5h0.02M1065.97,528.9h0.02M1100.59,528.5h0.02M1135.21,531.0h0.02M927.49,532.5h0.02M962.11,531.7h0.02M996.73,530.7h0.02M1031.35,531.0h0.02M1065.97,529.9h0.02M1100.59,531.6h0.02M1135.21,531.0h0.02M927.49,517.6h0.02M962.11,515.8h0.02M996.73,516.5h0.02M1031.35,516.0h0.02M1065.97,515.2h0.02M1100.59,514.2h0.02M1135.21,516.0h0.02M927.49,518.4h0.02M962.11,517.4h0.02M996.73,518.0h0.02M1031.35,518.1h0.02M1065.97,517.4h0.02M1100.59,517.8h0.02M1135.21,516.0h0.02M927.49,503.5h0.02M962.11,502.7h0.02M996.73,503.3h0.02M1031.35,502.0h0.02M1065.97,501.5h0.02M1100.59,495.9h0.02M1135.21,493.0h0.02M927.49,506.5h0.02M962.11,505.8h0.02M996.73,505.3h0.02M1031.35,504.6h0.02M1065.97,503.6h0.02M1100.59,499.1h0.02M1135.21,493.0h0.02M927.49,491.4h0.02M962.11,490.9h0.02M996.73,492.2h0.02M1031.35,488.8h0.02M1065.97,487.1h0.02M1100.59,476.8h0.02M1135.21,468.6h0.02M927.49,494.7h0.02M962.11,493.0h0.02M996.73,492.9h0.02M1031.35,488.9h0.02M1065.97,489.0h0.02M1100.59,480.8h0.02M1135.21,468.6h0.02" stroke="#0c0c40"/><path d="M95.09,218.2h0.02M129.71,217.0h0.02M164.33,212.8h0.02M198.95,208.2h0.02M233.57,197.9h0.02M268.19,189.6h0.02M302.81,190.1h0.02M95.09,220.2h0.02M129.71,219.7h0.02M164.33,218.9h0.02M198.95,217.5h0.02M233.57,211.6h0.02M268.19,199.1h0.02M302.81,190.1h0.02M95.09,275.2h0.02M129.71,276.4h0.02M164.33,276.4h0.02M198.95,275.2h0.02M233.57,273.2h0.02M268.19,274.4h0.02M302.81,273.2h0.02M95.09,276.9h0.02M129.71,277.4h0.02M164.33,276.9h0.02M198.95,276.4h0.02M233.57,274.9h0.02M268.19,274.9h0.02M302.81,273.2h0.02M372.99,270.0h0.02M407.61,281.0h0.02M442.23,271.5h0.02M476.85,271.0h0.02M511.47,271.0h0.02M546.09,270.6h0.02M580.71,270.6h0.02M372.99,271.2h0.02M407.61,272.1h0.02M442.23,272.5h0.02M476.85,271.9h0.02M511.47,271.8h0.02M546.09,271.4h0.02M580.71,270.6h0.02M372.99,241.9h0.02M407.61,241.5h0.02M442.23,242.2h0.02M476.85,242.2h0.02M511.47,239.6h0.02M546.09,233.3h0.02M580.71,228.8h0.02M372.99,244.4h0.02M407.61,243.5h0.02M442.23,244.2h0.02M476.85,244.0h0.02M511.47,241.1h0.02M546.09,234.8h0.02M580.71,228.8h0.02M650.39,274.4h0.02M685.01,274.5h0.02M719.63,275.1h0.02M754.25,275.0h0.02M788.87,273.9h0.02M823.49,274.2h0.02M858.11,277.1h0.02M650.39,278.1h0.02M685.01,278.0h0.02M719.63,279.2h0.02M754.25,277.8h0.02M788.87,278.0h0.02M823.49,277.9h0.02M858.11,277.1h0.02M650.39,266.1h0.02M685.01,265.6h0.02M719.63,265.5h0.02M754.25,264.0h0.02M788.87,259.7h0.02M823.49,256.4h0.02M858.11,255.6h0.02M650.39,267.8h0.02M685.01,266.5h0.02M719.63,266.8h0.02M754.25,265.5h0.02M788.87,262.1h0.02M823.49,259.4h0.02M858.11,255.6h0.02M650.39,258.9h0.02M685.01,257.8h0.02M719.63,256.0h0.02M754.25,252.0h0.02M788.87,246.3h0.02M823.49,238.3h0.02M858.11,235.0h0.02M650.39,259.2h0.02M685.01,258.0h0.02M719.63,256.7h0.02M754.25,252.6h0.02M788.87,247.8h0.02M823.49,239.6h0.02M858.11,235.0h0.02M650.39,249.2h0.02M685.01,245.5h0.02M719.63,242.9h0.02M754.25,239.1h0.02M788.87,230.8h0.02M823.49,217.2h0.02M858.11,209.7h0.02M650.39,254.2h0.02M685.01,250.6h0.02M719.63,247.1h0.02M754.25,243.2h0.02M788.87,233.9h0.02M823.49,220.9h0.02M858.11,209.7h0.02M650.39,226.9h0.02M685.01,241.0h0.02M719.63,236.5h0.02M754.25,230.0h0.02M788.87,218.5h0.02M823.49,193.7h0.02M858.11,187.2h0.02M929.79,276.2h0.02M964.41,277.2h0.02M999.03,276.2h0.02M1033.65,276.2h0.02M1068.27,276.5h0.02M1102.89,277.4h0.02M1137.51,277.9h0.02M929.79,281.7h0.02M964.41,280.7h0.02M999.03,280.5h0.02M1033.65,279.8h0.02M1068.27,278.7h0.02M1102.89,278.7h0.02M1137.51,277.9h0.02M929.79,265.5h0.02M964.41,264.8h0.02M999.03,264.4h0.02M1033.65,263.1h0.02M1068.27,263.4h0.02M1102.89,259.4h0.02M1137.51,260.6h0.02M929.79,271.2h0.02M964.41,270.7h0.02M999.03,267.4h0.02M1033.65,267.0h0.02M1068.27,266.9h0.02M1102.89,262.2h0.02M1137.51,260.6h0.02M929.79,257.7h0.02M964.41,256.2h0.02M999.03,253.9h0.02M1033.65,251.2h0.02M1068.27,247.1h0.02M1102.89,235.7h0.02M1137.51,234.2h0.02M929.79,260.1h0.02M964.41,258.3h0.02M999.03,255.0h0.02M1033.65,253.5h0.02M1068.27,250.5h0.02M1102.89,239.1h0.02M1137.51,234.2h0.02M929.79,245.4h0.02M964.41,242.6h0.02M999.03,239.9h0.02M1033.65,237.3h0.02M1068.27,229.7h0.02M1102.89,210.0h0.02M1137.51,202.6h0.02M929.79,247.9h0.02M964.41,244.6h0.02M999.03,241.3h0.02M1033.65,238.7h0.02M1068.27,232.9h0.02M1102.89,212.3h0.02M1137.51,202.6h0.02M95.09,487.4h0.02M129.71,498.0h0.02M164.33,498.5h0.02M198.95,499.3h0.02M233.57,488.3h0.02M268.19,479.1h0.02M302.81,479.1h0.02M95.09,502.9h0.02M129.71,504.0h0.02M164.33,502.1h0.02M198.95,502.1h0.02M233.57,495.7h0.02M268.19,487.4h0.02M302.81,479.1h0.02M95.09,525.6h0.02M129.71,533.9h0.02M164.33,534.5h0.02M198.95,534.5h0.02M233.57,534.5h0.02M268.19,531.7h0.02M302.81,531.2h0.02M95.09,536.7h0.02M129.71,536.7h0.02M164.33,536.7h0.02M198.95,536.2h0.02M233.57,536.2h0.02M268.19,534.0h0.02M302.81,531.2h0.02M372.99,488.5h0.02M407.61,490.6h0.02M442.23,492.2h0.02M476.85,493.1h0.02M511.47,479.8h0.02M546.09,449.8h0.02M580.71,455.1h0.02M372.99,496.8h0.02M407.61,493.7h0.02M442.23,493.7h0.02M476.85,493.7h0.02M511.47,484.4h0.02M546.09,469.0h0.02M580.71,455.1h0.02M372.99,521.6h0.02M407.61,523.1h0.02M442.23,523.1h0.02M476.85,523.1h0.02M511.47,513.8h0.02M546.09,501.5h0.02M580.71,503.0h0.02M372.99,523.1h0.02M407.61,524.7h0.02M442.23,524.7h0.02M476.85,524.7h0.02M511.47,518.5h0.02M546.09,506.1h0.02M580.71,503.0h0.02M372.99,538.9h0.02M407.61,541.7h0.02M442.23,541.7h0.02M476.85,541.7h0.02M511.47,539.5h0.02M546.09,537.0h0.02M580.71,538.6h0.02M372.99,539.8h0.02M407.61,542.6h0.02M442.23,542.6h0.02M476.85,542.0h0.02M511.47,540.1h0.02M546.09,538.0h0.02M580.71,538.6h0.02M372.99,543.2h0.02M407.61,545.7h0.02M442.23,544.8h0.02M476.85,543.8h0.02M511.47,542.6h0.02M546.09,540.1h0.02M580.71,538.6h0.02M372.99,543.2h0.02M407.61,545.7h0.02M442.23,544.8h0.02M476.85,543.8h0.02M511.47,542.6h0.02M546.09,540.1h0.02M580.71,538.6h0.02M650.49,528.0h0.02M685.11,528.5h0.02M719.73,526.5h0.02M754.35,527.2h0.02M788.97,525.4h0.02M823.59,523.1h0.02M858.21,526.0h0.02M650.49,530.5h0.02M685.11,530.7h0.02M719.73,529.1h0.02M754.35,528.6h0.02M788.97,527.8h0.02M823.59,527.5h0.02M858.21,526.0h0.02M650.49,510.6h0.02M685.11,509.2h0.02M719.73,512.0h0.02M754.35,511.0h0.02M788.97,507.7h0.02M823.59,501.7h0.02M858.21,507.4h0.02M650.49,513.8h0.02M685.11,513.1h0.02M719.73,513.9h0.02M754.35,512.8h0.02M788.97,510.1h0.02M823.59,505.5h0.02M858.21,507.4h0.02M650.49,493.4h0.02M685.11,492.5h0.02M719.73,497.0h0.02M754.35,494.3h0.02M788.97,490.9h0.02M823.59,478.6h0.02M858.21,484.1h0.02M650.49,494.7h0.02M685.11,492.3h0.02M719.73,497.9h0.02M754.35,495.0h0.02M788.97,491.5h0.02M823.59,482.8h0.02M858.21,484.1h0.02M650.49,479.3h0.02M685.11,475.5h0.02M719.73,482.9h0.02M754.35,478.9h0.02M788.97,472.2h0.02M823.59,454.3h0.02M858.21,448.7h0.02M650.49,478.8h0.02M685.11,475.4h0.02M719.73,480.7h0.02M754.35,479.3h0.02M788.97,474.8h0.02M823.59,457.3h0.02M858.21,448.7h0.02M927.49,535.1h0.02M962.11,530.9h0.02M996.73,532.9h0.02M1031.35,530.7h0.02M1065.97,530.1h0.02M1100.59,532.3h0.02M1135.21,533.4h0.02M927.49,536.4h0.02M962.11,533.5h0.02M996.73,534.3h0.02M1031.35,533.5h0.02M1065.97,532.0h0.02M1100.59,534.4h0.02M1135.21,533.4h0.02M927.49,522.5h0.02M962.11,520.5h0.02M996.73,520.4h0.02M1031.35,520.3h0.02M1065.97,520.5h0.02M1100.59,518.7h0.02M1135.21,520.9h0.02M927.49,524.3h0.02M962.11,521.3h0.02M996.73,523.2h0.02M1031.35,521.4h0.02M1065.97,520.7h0.02M1100.59,521.6h0.02M1135.21,520.9h0.02M927.49,507.4h0.02M962.11,506.3h0.02M996.73,507.0h0.02M1031.35,504.3h0.02M1065.97,505.1h0.02M1100.59,500.8h0.02M1135.21,497.2h0.02M927.49,510.4h0.02M962.11,507.6h0.02M996.73,508.3h0.02M1031.35,506.9h0.02M1065.97,506.5h0.02M1100.59,503.0h0.02M1135.21,497.2h0.02M927.49,495.7h0.02M962.11,494.7h0.02M996.73,494.2h0.02M1031.35,491.7h0.02M1065.97,489.9h0.02M1100.59,481.1h0.02M1135.21,473.0h0.02M927.49,497.4h0.02M962.11,496.5h0.02M996.73,496.8h0.02M1031.35,493.4h0.02M1065.97,490.4h0.02M1100.59,483.9h0.02M1135.21,473.0h0.02M962.11,546.2h0.02M996.73,532.3h0.02M1031.35,528.0h0.02M1065.97,526.0h0.02M1100.59,524.0h0.02M1135.21,522.0h0.02" stroke="#3a0808"/></g>
<rect x="60.4" y="8.9" width="1108.6" height="561.1" fill="none" stroke="#262626" stroke-width="1.8"/><line x1="337.5" y1="8.9" x2="337.5" y2="570.0" stroke="#222" stroke-width="1.6"/><line x1="615.2" y1="8.9" x2="615.2" y2="570.0" stroke="#222" stroke-width="1.6"/><line x1="892.7" y1="8.9" x2="892.7" y2="570.0" stroke="#222" stroke-width="1.6"/><line x1="60.4" y1="289.5" x2="1169.0" y2="289.5" stroke="#222" stroke-width="1.5"/><path d="M95.1,8.9v4.5M95.1,285.0v9.0M95.1,570.0v-4.5M129.7,8.9v2.5M129.7,287.0v5.0M129.7,570.0v-2.5M164.3,8.9v4.5M164.3,285.0v9.0M164.3,570.0v-4.5M199.0,8.9v2.5M199.0,287.0v5.0M199.0,570.0v-2.5M233.6,8.9v4.5M233.6,285.0v9.0M233.6,570.0v-4.5M268.2,8.9v2.5M268.2,287.0v5.0M268.2,570.0v-2.5M302.8,8.9v4.5M302.8,285.0v9.0M302.8,570.0v-4.5M372.9,8.9v4.5M372.9,285.0v9.0M372.9,570.0v-4.5M407.5,8.9v2.5M407.5,287.0v5.0M407.5,570.0v-2.5M442.1,8.9v4.5M442.1,285.0v9.0M442.1,570.0v-4.5M476.8,8.9v2.5M476.8,287.0v5.0M476.8,570.0v-2.5M511.4,8.9v4.5M511.4,285.0v9.0M511.4,570.0v-4.5M546.0,8.9v2.5M546.0,287.0v5.0M546.0,570.0v-2.5M580.6,8.9v4.5M580.6,285.0v9.0M580.6,570.0v-4.5M650.4,8.9v4.5M650.4,285.0v9.0M650.4,570.0v-4.5M685.0,8.9v2.5M685.0,287.0v5.0M685.0,570.0v-2.5M719.6,8.9v4.5M719.6,285.0v9.0M719.6,570.0v-4.5M754.3,8.9v2.5M754.3,287.0v5.0M754.3,570.0v-2.5M788.9,8.9v4.5M788.9,285.0v9.0M788.9,570.0v-4.5M823.5,8.9v2.5M823.5,287.0v5.0M823.5,570.0v-2.5M858.1,8.9v4.5M858.1,285.0v9.0M858.1,570.0v-4.5M927.6,8.9v4.5M927.6,285.0v9.0M927.6,570.0v-4.5M962.2,8.9v2.5M962.2,287.0v5.0M962.2,570.0v-2.5M996.8,8.9v4.5M996.8,285.0v9.0M996.8,570.0v-4.5M1031.5,8.9v2.5M1031.5,287.0v5.0M1031.5,570.0v-2.5M1066.1,8.9v4.5M1066.1,285.0v9.0M1066.1,570.0v-4.5M1100.7,8.9v2.5M1100.7,287.0v5.0M1100.7,570.0v-2.5M1135.3,8.9v4.5M1135.3,285.0v9.0M1135.3,570.0v-4.5M60.4,261.4h2.5M335.0,261.4h5.0M612.7,261.4h5.0M890.2,261.4h5.0M1169.0,261.4h-2.5M60.4,233.4h4.5M333.0,233.4h9.0M610.7,233.4h9.0M888.2,233.4h9.0M1169.0,233.4h-4.5M60.4,205.3h2.5M335.0,205.3h5.0M612.7,205.3h5.0M890.2,205.3h5.0M1169.0,205.3h-2.5M60.4,177.3h4.5M333.0,177.3h9.0M610.7,177.3h9.0M888.2,177.3h9.0M1169.0,177.3h-4.5M60.4,149.2h2.5M335.0,149.2h5.0M612.7,149.2h5.0M890.2,149.2h5.0M1169.0,149.2h-2.5M60.4,121.1h4.5M333.0,121.1h9.0M610.7,121.1h9.0M888.2,121.1h9.0M1169.0,121.1h-4.5M60.4,93.1h2.5M335.0,93.1h5.0M612.7,93.1h5.0M890.2,93.1h5.0M1169.0,93.1h-2.5M60.4,65.0h4.5M333.0,65.0h9.0M610.7,65.0h9.0M888.2,65.0h9.0M1169.0,65.0h-4.5M60.4,37.0h2.5M335.0,37.0h5.0M612.7,37.0h5.0M890.2,37.0h5.0M1169.0,37.0h-2.5M60.4,542.0h2.5M60.4,513.9h4.5M60.4,485.9h2.5M60.4,457.8h4.5M60.4,429.8h2.5M60.4,401.7h4.5M60.4,373.6h2.5M60.4,345.6h4.5M60.4,317.5h2.5M335.0,542.0h5.0M333.0,513.9h9.0M335.0,485.9h5.0M333.0,457.8h9.0M335.0,429.8h5.0M333.0,401.7h9.0M335.0,373.6h5.0M333.0,345.6h9.0M335.0,317.5h5.0M612.7,534.9h5.0M610.7,499.9h9.0M612.7,464.8h5.0M610.7,429.8h9.0M612.7,394.7h5.0M610.7,359.6h9.0M612.7,324.6h5.0M890.2,534.9h5.0M888.2,499.9h9.0M890.2,464.8h5.0M888.2,429.8h9.0M890.2,394.7h5.0M888.2,359.6h9.0M890.2,324.6h5.0M1169.0,542.0h-2.5M1169.0,513.9h-4.5M1169.0,485.9h-2.5M1169.0,457.8h-4.5M1169.0,429.8h-2.5M1169.0,401.7h-4.5M1169.0,373.6h-2.5M1169.0,345.6h-4.5M1169.0,317.5h-2.5" stroke="#262626" stroke-width="1.5" fill="none"/>
<g font-family="Liberation Sans, Arial, sans-serif" font-weight="bold" fill="#000" stroke="#000" stroke-width="0.35"><text x="55.8" y="14.3" text-anchor="end" font-size="15">200</text><text x="55.8" y="70.4" text-anchor="end" font-size="15">160</text><text x="55.8" y="126.5" text-anchor="end" font-size="15">120</text><text x="55.8" y="182.7" text-anchor="end" font-size="15">80</text><text x="55.8" y="238.8" text-anchor="end" font-size="15">40</text><text x="55.8" y="294.9" text-anchor="end" font-size="15">50</text><text x="55.8" y="351.0" text-anchor="end" font-size="15">40</text><text x="55.8" y="407.1" text-anchor="end" font-size="15">30</text><text x="55.8" y="463.2" text-anchor="end" font-size="15">20</text><text x="55.8" y="519.3" text-anchor="end" font-size="15">10</text><text x="55.8" y="575.4" text-anchor="end" font-size="15">0</text><text x="95.1" y="588" text-anchor="middle" font-size="15">3.8</text><text x="164.3" y="588" text-anchor="middle" font-size="15">4</text><text x="233.6" y="588" text-anchor="middle" font-size="15">4.2</text><text x="302.8" y="588" text-anchor="middle" font-size="15">4.4</text><text x="195.5" y="609" text-anchor="middle" font-size="18" textLength="99" lengthAdjust="spacingAndGlyphs">Voltage (V)</text><text x="372.9" y="588" text-anchor="middle" font-size="15">3.8</text><text x="442.1" y="588" text-anchor="middle" font-size="15">4</text><text x="511.4" y="588" text-anchor="middle" font-size="15">4.2</text><text x="580.6" y="588" text-anchor="middle" font-size="15">4.4</text><text x="473.3" y="609" text-anchor="middle" font-size="18" textLength="99" lengthAdjust="spacingAndGlyphs">Voltage (V)</text><text x="650.4" y="588" text-anchor="middle" font-size="15">3.8</text><text x="719.6" y="588" text-anchor="middle" font-size="15">4</text><text x="788.9" y="588" text-anchor="middle" font-size="15">4.2</text><text x="858.1" y="588" text-anchor="middle" font-size="15">4.4</text><text x="750.8" y="609" text-anchor="middle" font-size="18" textLength="99" lengthAdjust="spacingAndGlyphs">Voltage (V)</text><text x="927.6" y="588" text-anchor="middle" font-size="15">3.8</text><text x="996.8" y="588" text-anchor="middle" font-size="15">4</text><text x="1066.1" y="588" text-anchor="middle" font-size="15">4.2</text><text x="1135.3" y="588" text-anchor="middle" font-size="15">4.4</text><text x="1028.0" y="609" text-anchor="middle" font-size="18" textLength="99" lengthAdjust="spacingAndGlyphs">Voltage (V)</text><circle cx="373" cy="597" r="1.6" fill="#000"/><circle cx="650.7" cy="597" r="1.6" fill="#000"/><text transform="translate(15,148.0) rotate(-90)" text-anchor="middle" font-size="15" textLength="100" lengthAdjust="spacingAndGlyphs">R<tspan font-size="10" dy="3">ct</tspan><tspan dy="-3"> (Ω*cm</tspan><tspan font-size="10" dy="-6">2</tspan><tspan dy="6">)</tspan></text><text transform="translate(15,426.7) rotate(-90)" text-anchor="middle" font-size="15" textLength="100" lengthAdjust="spacingAndGlyphs">R<tspan font-size="10" dy="3">ct</tspan><tspan dy="-3"> (Ω*cm</tspan><tspan font-size="10" dy="-6">2</tspan><tspan dy="6">)</tspan></text><text x="74.4" y="43.5" font-size="18" textLength="123.7" lengthAdjust="spacingAndGlyphs">Control-38 cycles</text><text x="353.1" y="43.5" font-size="18" textLength="126.3" lengthAdjust="spacingAndGlyphs">2% PBF-38 cycles</text><text x="629.5" y="43.5" font-size="18" textLength="148.5" lengthAdjust="spacingAndGlyphs">2% 3F-PBF-78 cycles</text><text x="904.8" y="43.5" font-size="18" textLength="128.7" lengthAdjust="spacingAndGlyphs">2% PCN-78 cycles</text><text x="67.7" y="332.3" font-size="18" textLength="137.1" lengthAdjust="spacingAndGlyphs">1%MMDS-38 cycles</text><text x="348.3" y="326.9" font-size="18" textLength="202.2" lengthAdjust="spacingAndGlyphs">2% PBF+1%MMDS-74 cycles</text><text x="630.9" y="326.4" font-size="18" textLength="220.6" lengthAdjust="spacingAndGlyphs">2% 3F-PBF+1%MMDS-78cycles</text><text x="902.7" y="326.4" font-size="18" textLength="203.4" lengthAdjust="spacingAndGlyphs">2% PCN+1%MMDS-70 cycles</text></g>
<g font-family="Liberation Sans, Arial, sans-serif" font-weight="bold" fill="#222"><line x1="1181.5" y1="159.5" x2="1222" y2="159.5" stroke="#ff5050" stroke-width="1.5"/><circle cx="1181.5" cy="159.5" r="4" fill="#e00000" stroke="#222" stroke-width="0.9"/><circle cx="1201.6" cy="159.5" r="4" fill="#e00000" stroke="#222" stroke-width="0.9"/><circle cx="1222.1" cy="159.5" r="4" fill="#e00000" stroke="#222" stroke-width="0.9"/><text x="1230.5" y="163.9" font-size="12" stroke="#222" stroke-width="0.3">Cycle-2</text><line x1="1181.5" y1="175.2" x2="1222" y2="175.2" stroke="#6060ff" stroke-width="2.2"/><circle cx="1181.5" cy="175.2" r="4" fill="#0000e0" stroke="#222" stroke-width="0.9"/><circle cx="1201.6" cy="175.2" r="4" fill="#0000e0" stroke="#222" stroke-width="0.9"/><circle cx="1222.1" cy="175.2" r="4" fill="#0000e0" stroke="#222" stroke-width="0.9"/><text x="1230.5" y="179.7" font-size="12" stroke="#222" stroke-width="0.3">Cycle-6</text><line x1="1181.5" y1="191.0" x2="1222" y2="191.0" stroke="#50f050" stroke-width="1.5"/><circle cx="1181.5" cy="191.0" r="4" fill="#00d000" stroke="#222" stroke-width="0.9"/><circle cx="1201.6" cy="191.0" r="4" fill="#00d000" stroke="#222" stroke-width="0.9"/><circle cx="1222.1" cy="191.0" r="4" fill="#00d000" stroke="#222" stroke-width="0.9"/><text x="1230.5" y="195.4" font-size="12" stroke="#222" stroke-width="0.3">Cycle-10</text><line x1="1181.5" y1="206.8" x2="1222" y2="206.8" stroke="#ff50ff" stroke-width="1.5"/><circle cx="1181.5" cy="206.8" r="4" fill="#e000e0" stroke="#222" stroke-width="0.9"/><circle cx="1201.6" cy="206.8" r="4" fill="#e000e0" stroke="#222" stroke-width="0.9"/><circle cx="1222.1" cy="206.8" r="4" fill="#e000e0" stroke="#222" stroke-width="0.9"/><text x="1230.5" y="211.2" font-size="12" stroke="#222" stroke-width="0.3">Cycle-14</text><line x1="1181.5" y1="222.5" x2="1222" y2="222.5" stroke="#808080" stroke-width="2.2"/><circle cx="1181.5" cy="222.5" r="4" fill="#000000" stroke="#222" stroke-width="0.9"/><circle cx="1201.6" cy="222.5" r="4" fill="#000000" stroke="#222" stroke-width="0.9"/><circle cx="1222.1" cy="222.5" r="4" fill="#000000" stroke="#222" stroke-width="0.9"/><text x="1230.5" y="226.9" font-size="12" stroke="#222" stroke-width="0.3">Cycle-18</text><line x1="1181.5" y1="238.2" x2="1222" y2="238.2" stroke="#ff5050" stroke-width="1.5"/><circle cx="1181.5" cy="238.2" r="4" fill="#e00000" stroke="#222" stroke-width="0.9"/><circle cx="1201.6" cy="238.2" r="4" fill="#e00000" stroke="#222" stroke-width="0.9"/><circle cx="1222.1" cy="238.2" r="4" fill="#e00000" stroke="#222" stroke-width="0.9"/><text x="1230.5" y="242.7" font-size="12" stroke="#222" stroke-width="0.3">Cycle-22</text><line x1="1181.5" y1="254.0" x2="1222" y2="254.0" stroke="#6060ff" stroke-width="2.2"/><circle cx="1181.5" cy="254.0" r="4" fill="#0000e0" stroke="#222" stroke-width="0.9"/><circle cx="1201.6" cy="254.0" r="4" fill="#0000e0" stroke="#222" stroke-width="0.9"/><circle cx="1222.1" cy="254.0" r="4" fill="#0000e0" stroke="#222" stroke-width="0.9"/><text x="1230.5" y="258.4" font-size="12" stroke="#222" stroke-width="0.3">Cycle-26</text><line x1="1181.5" y1="269.8" x2="1222" y2="269.8" stroke="#50f050" stroke-width="1.5"/><circle cx="1181.5" cy="269.8" r="4" fill="#00d000" stroke="#222" stroke-width="0.9"/><circle cx="1201.6" cy="269.8" r="4" fill="#00d000" stroke="#222" stroke-width="0.9"/><circle cx="1222.1" cy="269.8" r="4" fill="#00d000" stroke="#222" stroke-width="0.9"/><text x="1230.5" y="274.1" font-size="12" stroke="#222" stroke-width="0.3">Cycle-30</text><line x1="1181.5" y1="285.5" x2="1222" y2="285.5" stroke="#ff50ff" stroke-width="1.5"/><circle cx="1181.5" cy="285.5" r="4" fill="#e000e0" stroke="#222" stroke-width="0.9"/><circle cx="1201.6" cy="285.5" r="4" fill="#e000e0" stroke="#222" stroke-width="0.9"/><circle cx="1222.1" cy="285.5" r="4" fill="#e000e0" stroke="#222" stroke-width="0.9"/><text x="1230.5" y="289.9" font-size="12" stroke="#222" stroke-width="0.3">Cycle-34</text><line x1="1181.5" y1="301.2" x2="1222" y2="301.2" stroke="#808080" stroke-width="2.2"/><circle cx="1181.5" cy="301.2" r="4" fill="#000000" stroke="#222" stroke-width="0.9"/><circle cx="1201.6" cy="301.2" r="4" fill="#000000" stroke="#222" stroke-width="0.9"/><circle cx="1222.1" cy="301.2" r="4" fill="#000000" stroke="#222" stroke-width="0.9"/><text x="1230.5" y="305.6" font-size="12" stroke="#222" stroke-width="0.3">Cycle-38</text><line x1="1181.5" y1="317.0" x2="1222" y2="317.0" stroke="#ff5050" stroke-width="1.5"/><circle cx="1181.5" cy="317.0" r="4" fill="#e00000" stroke="#222" stroke-width="0.9"/><circle cx="1201.6" cy="317.0" r="4" fill="#e00000" stroke="#222" stroke-width="0.9"/><circle cx="1222.1" cy="317.0" r="4" fill="#e00000" stroke="#222" stroke-width="0.9"/><text x="1230.5" y="321.4" font-size="12" stroke="#222" stroke-width="0.3">Cycle-42</text><line x1="1181.5" y1="332.8" x2="1222" y2="332.8" stroke="#6060ff" stroke-width="2.2"/><circle cx="1181.5" cy="332.8" r="4" fill="#0000e0" stroke="#222" stroke-width="0.9"/><circle cx="1201.6" cy="332.8" r="4" fill="#0000e0" stroke="#222" stroke-width="0.9"/><circle cx="1222.1" cy="332.8" r="4" fill="#0000e0" stroke="#222" stroke-width="0.9"/><text x="1230.5" y="337.1" font-size="12" stroke="#222" stroke-width="0.3">Cycle-46</text><line x1="1181.5" y1="348.5" x2="1222" y2="348.5" stroke="#50f050" stroke-width="1.5"/><circle cx="1181.5" cy="348.5" r="4" fill="#00d000" stroke="#222" stroke-width="0.9"/><circle cx="1201.6" cy="348.5" r="4" fill="#00d000" stroke="#222" stroke-width="0.9"/><circle cx="1222.1" cy="348.5" r="4" fill="#00d000" stroke="#222" stroke-width="0.9"/><text x="1230.5" y="352.9" font-size="12" stroke="#222" stroke-width="0.3">Cycle-50</text><line x1="1181.5" y1="364.2" x2="1222" y2="364.2" stroke="#ff50ff" stroke-width="1.5"/><circle cx="1181.5" cy="364.2" r="4" fill="#e000e0" stroke="#222" stroke-width="0.9"/><circle cx="1201.6" cy="364.2" r="4" fill="#e000e0" stroke="#222" stroke-width="0.9"/><circle cx="1222.1" cy="364.2" r="4" fill="#e000e0" stroke="#222" stroke-width="0.9"/><text x="1230.5" y="368.6" font-size="12" stroke="#222" stroke-width="0.3">Cycle-54</text><line x1="1181.5" y1="380.0" x2="1222" y2="380.0" stroke="#808080" stroke-width="2.2"/><circle cx="1181.5" cy="380.0" r="4" fill="#000000" stroke="#222" stroke-width="0.9"/><circle cx="1201.6" cy="380.0" r="4" fill="#000000" stroke="#222" stroke-width="0.9"/><circle cx="1222.1" cy="380.0" r="4" fill="#000000" stroke="#222" stroke-width="0.9"/><text x="1230.5" y="384.4" font-size="12" stroke="#222" stroke-width="0.3">Cycle-58</text><line x1="1181.5" y1="395.8" x2="1222" y2="395.8" stroke="#ff5050" stroke-width="1.5"/><circle cx="1181.5" cy="395.8" r="4" fill="#e00000" stroke="#222" stroke-width="0.9"/><circle cx="1201.6" cy="395.8" r="4" fill="#e00000" stroke="#222" stroke-width="0.9"/><circle cx="1222.1" cy="395.8" r="4" fill="#e00000" stroke="#222" stroke-width="0.9"/><text x="1230.5" y="400.1" font-size="12" stroke="#222" stroke-width="0.3">Cycle-62</text><line x1="1181.5" y1="411.5" x2="1222" y2="411.5" stroke="#6060ff" stroke-width="2.2"/><circle cx="1181.5" cy="411.5" r="4" fill="#0000e0" stroke="#222" stroke-width="0.9"/><circle cx="1201.6" cy="411.5" r="4" fill="#0000e0" stroke="#222" stroke-width="0.9"/><circle cx="1222.1" cy="411.5" r="4" fill="#0000e0" stroke="#222" stroke-width="0.9"/><text x="1230.5" y="415.9" font-size="12" stroke="#222" stroke-width="0.3">Cycle-66</text><line x1="1181.5" y1="427.2" x2="1222" y2="427.2" stroke="#50f050" stroke-width="1.5"/><circle cx="1181.5" cy="427.2" r="4" fill="#00d000" stroke="#222" stroke-width="0.9"/><circle cx="1201.6" cy="427.2" r="4" fill="#00d000" stroke="#222" stroke-width="0.9"/><circle cx="1222.1" cy="427.2" r="4" fill="#00d000" stroke="#222" stroke-width="0.9"/><text x="1230.5" y="431.6" font-size="12" stroke="#222" stroke-width="0.3">Cycle-70</text><line x1="1181.5" y1="443.0" x2="1222" y2="443.0" stroke="#ff50ff" stroke-width="1.5"/><circle cx="1181.5" cy="443.0" r="4" fill="#e000e0" stroke="#222" stroke-width="0.9"/><circle cx="1201.6" cy="443.0" r="4" fill="#e000e0" stroke="#222" stroke-width="0.9"/><circle cx="1222.1" cy="443.0" r="4" fill="#e000e0" stroke="#222" stroke-width="0.9"/><text x="1230.5" y="447.4" font-size="12" stroke="#222" stroke-width="0.3">Cycle-74</text><line x1="1181.5" y1="458.8" x2="1222" y2="458.8" stroke="#808080" stroke-width="2.2"/><circle cx="1181.5" cy="458.8" r="4" fill="#000000" stroke="#222" stroke-width="0.9"/><circle cx="1201.6" cy="458.8" r="4" fill="#000000" stroke="#222" stroke-width="0.9"/><circle cx="1222.1" cy="458.8" r="4" fill="#000000" stroke="#222" stroke-width="0.9"/><text x="1230.5" y="463.1" font-size="12" stroke="#222" stroke-width="0.3">Cycle-78</text></g>
</g>
</svg>
</body></html>
